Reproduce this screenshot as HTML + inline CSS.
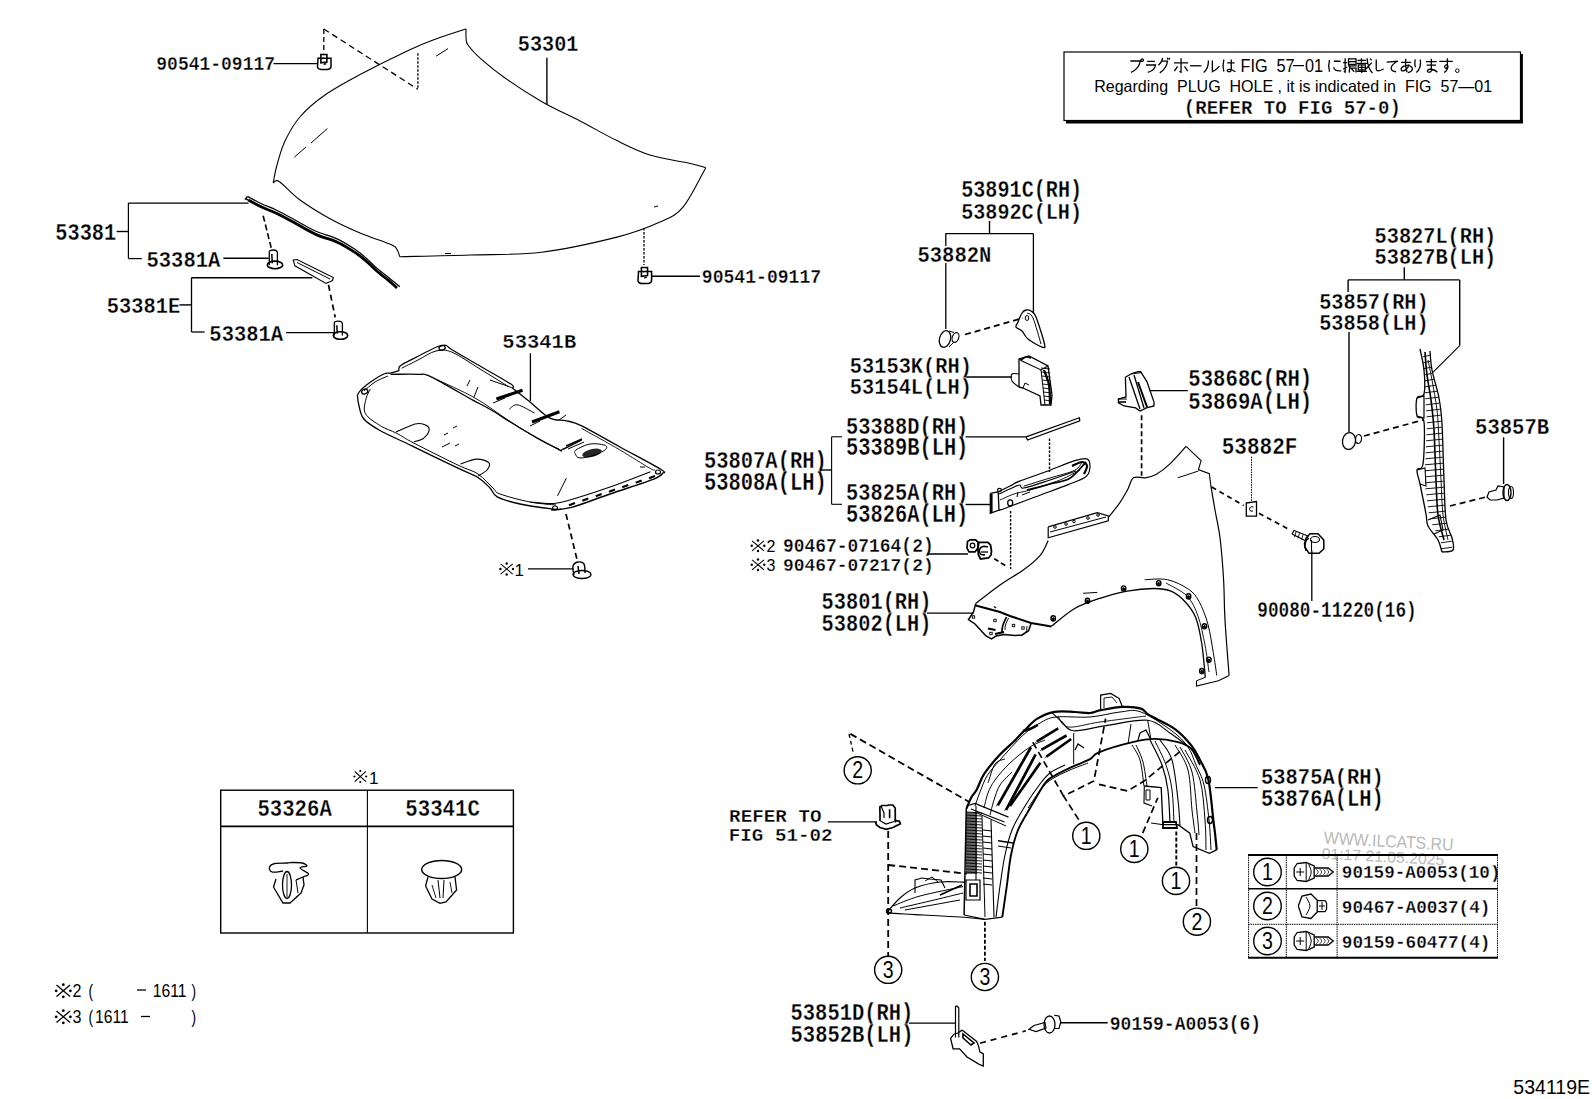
<!DOCTYPE html>
<html><head><meta charset="utf-8"><style>
html,body{margin:0;padding:0;background:#fff;}
body{width:1592px;height:1099px;overflow:hidden;position:relative;font-family:"Liberation Sans",sans-serif;}
svg{position:absolute;left:0;top:0;}
</style></head><body>
<svg width="1592" height="1099" viewBox="0 0 1592 1099">
<g fill="#000" stroke="#fff" stroke-width="0.3">
<text transform="translate(156.30 69.80) scale(0.9261 1)" font-family='"Liberation Mono"' font-weight="bold" font-size="19.43" style="white-space:pre" >90541-09117</text>
<text transform="translate(517.87 50.80) scale(0.8960 1)" font-family='"Liberation Mono"' font-weight="bold" font-size="22.57" style="white-space:pre" >53301</text>
<text transform="translate(55.27 240.30) scale(0.8717 1)" font-family='"Liberation Mono"' font-weight="bold" font-size="23.32" style="white-space:pre" >53381</text>
<text transform="translate(146.46 266.70) scale(0.9098 1)" font-family='"Liberation Mono"' font-weight="bold" font-size="22.57" style="white-space:pre" >53381A</text>
<text transform="translate(106.76 313.00) scale(0.9099 1)" font-family='"Liberation Mono"' font-weight="bold" font-size="22.42" style="white-space:pre" >53381E</text>
<text transform="translate(209.36 340.80) scale(0.9085 1)" font-family='"Liberation Mono"' font-weight="bold" font-size="22.57" style="white-space:pre" >53381A</text>
<text transform="translate(701.79 282.50) scale(0.8644 1)" font-family='"Liberation Mono"' font-weight="bold" font-size="20.93" style="white-space:pre" >90541-09117</text>
<text transform="translate(502.36 347.50) scale(0.9803 1)" font-family='"Liberation Mono"' font-weight="bold" font-size="20.93" style="white-space:pre" >53341B</text>
<text transform="translate(961.18 196.90) scale(0.8703 1)" font-family='"Liberation Mono"' font-weight="bold" font-size="23.17" style="white-space:pre" >53891C(RH)</text>
<text transform="translate(961.18 218.90) scale(0.8933 1)" font-family='"Liberation Mono"' font-weight="bold" font-size="22.57" style="white-space:pre" >53892C(LH)</text>
<text transform="translate(917.46 262.10) scale(0.9289 1)" font-family='"Liberation Mono"' font-weight="bold" font-size="22.12" style="white-space:pre" >53882N</text>
<text transform="translate(849.87 372.50) scale(0.9193 1)" font-family='"Liberation Mono"' font-weight="bold" font-size="22.12" style="white-space:pre" >53153K(RH)</text>
<text transform="translate(849.87 394.10) scale(0.9193 1)" font-family='"Liberation Mono"' font-weight="bold" font-size="22.12" style="white-space:pre" >53154L(LH)</text>
<text transform="translate(846.06 433.50) scale(0.8800 1)" font-family='"Liberation Mono"' font-weight="bold" font-size="23.17" style="white-space:pre" >53388D(RH)</text>
<text transform="translate(846.06 455.40) scale(0.8119 1)" font-family='"Liberation Mono"' font-weight="bold" font-size="25.11" style="white-space:pre" >53389B(LH)</text>
<text transform="translate(703.96 467.50) scale(0.8561 1)" font-family='"Liberation Mono"' font-weight="bold" font-size="23.92" style="white-space:pre" >53807A(RH)</text>
<text transform="translate(703.96 490.10) scale(0.8202 1)" font-family='"Liberation Mono"' font-weight="bold" font-size="24.96" style="white-space:pre" >53808A(LH)</text>
<text transform="translate(846.06 500.40) scale(0.8857 1)" font-family='"Liberation Mono"' font-weight="bold" font-size="23.02" style="white-space:pre" >53825A(RH)</text>
<text transform="translate(846.06 522.30) scale(0.8168 1)" font-family='"Liberation Mono"' font-weight="bold" font-size="24.96" style="white-space:pre" >53826A(LH)</text>
<text transform="translate(783.00 552.00) scale(0.9237 1)" font-family='"Liberation Mono"' font-weight="bold" font-size="19.43" style="white-space:pre" >90467-07164(2)</text>
<text transform="translate(783.00 571.30) scale(0.9309 1)" font-family='"Liberation Mono"' font-weight="bold" font-size="19.28" style="white-space:pre" >90467-07217(2)</text>
<text transform="translate(821.57 608.60) scale(0.8795 1)" font-family='"Liberation Mono"' font-weight="bold" font-size="23.17" style="white-space:pre" >53801(RH)</text>
<text transform="translate(821.57 630.50) scale(0.8795 1)" font-family='"Liberation Mono"' font-weight="bold" font-size="23.17" style="white-space:pre" >53802(LH)</text>
<text transform="translate(1188.35 385.70) scale(0.8688 1)" font-family='"Liberation Mono"' font-weight="bold" font-size="23.77" style="white-space:pre" >53868C(RH)</text>
<text transform="translate(1188.35 409.00) scale(0.8633 1)" font-family='"Liberation Mono"' font-weight="bold" font-size="23.92" style="white-space:pre" >53869A(LH)</text>
<text transform="translate(1221.73 453.50) scale(0.8837 1)" font-family='"Liberation Mono"' font-weight="bold" font-size="23.77" style="white-space:pre" >53882F</text>
<text transform="translate(1374.57 242.50) scale(0.8870 1)" font-family='"Liberation Mono"' font-weight="bold" font-size="22.87" style="white-space:pre" >53827L(RH)</text>
<text transform="translate(1374.57 263.50) scale(0.8870 1)" font-family='"Liberation Mono"' font-weight="bold" font-size="22.87" style="white-space:pre" >53827B(LH)</text>
<text transform="translate(1319.17 309.30) scale(0.8867 1)" font-family='"Liberation Mono"' font-weight="bold" font-size="22.87" style="white-space:pre" >53857(RH)</text>
<text transform="translate(1319.17 330.30) scale(0.8867 1)" font-family='"Liberation Mono"' font-weight="bold" font-size="22.87" style="white-space:pre" >53858(LH)</text>
<text transform="translate(1475.06 433.50) scale(0.8995 1)" font-family='"Liberation Mono"' font-weight="bold" font-size="22.87" style="white-space:pre" >53857B</text>
<text transform="translate(1257.31 616.90) scale(0.7745 1)" font-family='"Liberation Mono"' font-weight="bold" font-size="22.87" style="white-space:pre" >90080-11220(16)</text>
<text transform="translate(257.45 816.30) scale(0.8474 1)" font-family='"Liberation Mono"' font-weight="bold" font-size="24.37" style="white-space:pre" >53326A</text>
<text transform="translate(405.24 816.30) scale(0.8530 1)" font-family='"Liberation Mono"' font-weight="bold" font-size="24.37" style="white-space:pre" >53341C</text>
<text transform="translate(729.11 821.80) scale(1.0066 1)" font-family='"Liberation Mono"' font-weight="bold" font-size="19.13" style="white-space:pre" >REFER TO</text>
<text transform="translate(728.84 841.10) scale(1.0347 1)" font-family='"Liberation Mono"' font-weight="bold" font-size="18.54" style="white-space:pre" >FIG 51-02</text>
<text transform="translate(1261.06 784.30) scale(0.9571 1)" font-family='"Liberation Mono"' font-weight="bold" font-size="21.38" style="white-space:pre" >53875A(RH)</text>
<text transform="translate(1261.06 806.40) scale(0.8887 1)" font-family='"Liberation Mono"' font-weight="bold" font-size="23.02" style="white-space:pre" >53876A(LH)</text>
<text transform="translate(1341.82 878.30) scale(0.9363 1)" font-family='"Liberation Mono"' font-weight="bold" font-size="18.84" style="white-space:pre" >90159-A0053(10)</text>
<text transform="translate(1341.81 912.60) scale(0.9401 1)" font-family='"Liberation Mono"' font-weight="bold" font-size="18.84" style="white-space:pre" >90467-A0037(4)</text>
<text transform="translate(1341.81 947.50) scale(0.9254 1)" font-family='"Liberation Mono"' font-weight="bold" font-size="19.13" style="white-space:pre" >90159-60477(4)</text>
<text transform="translate(790.56 1019.70) scale(0.8455 1)" font-family='"Liberation Mono"' font-weight="bold" font-size="24.22" style="white-space:pre" >53851D(RH)</text>
<text transform="translate(790.56 1041.50) scale(0.8252 1)" font-family='"Liberation Mono"' font-weight="bold" font-size="24.82" style="white-space:pre" >53852B(LH)</text>
<text transform="translate(1109.80 1030.20) scale(0.8674 1)" font-family='"Liberation Mono"' font-weight="bold" font-size="20.78" style="white-space:pre" >90159-A0053(6)</text>
<text transform="translate(1183.80 113.50) scale(0.9439 1)" font-family='"Liberation Mono"' font-weight="bold" font-size="20.18" style="white-space:pre" >(REFER TO FIG 57-0)</text>
<text transform="translate(1513.32 1093.50) scale(0.9420 1)" font-family='"Liberation Sans"' font-weight="normal" font-size="20.77" style="white-space:pre" stroke="none">534119E</text>
<text transform="translate(1094.18 92.00) scale(1.0101 1)" font-family='"Liberation Sans"' font-weight="normal" font-size="15.87" style="white-space:pre" stroke="none">Regarding  PLUG  HOLE , it is indicated in  FIG  57—01</text>
</g>
<g><text transform="translate(1323.5 843.6) rotate(3.1) scale(0.91 1)" font-family="'Liberation Sans'" font-size="17.4" fill="#b9b9b9">WWW.ILCATS.RU</text><text transform="translate(1321.5 858.7) rotate(3.0) scale(1.03 1)" font-family="'Liberation Sans'" font-size="15.3" fill="#b9b9b9">01:17 21.05.2025</text><path d="M0.05 0.18 L0.78 0.18 Q0.72 0.72 0.1 1.0 M0.92 0.12 m-0.09 0 a0.09 0.09 0 1 0 0.18 0 a0.09 0.09 0 1 0 -0.18 0" transform="translate(1129.6 58.5) scale(13.6 13.9)" fill="none" stroke="#000" stroke-width="1.3" vector-effect="non-scaling-stroke"/><path d="M0.15 0.08 L0.8 0.08 M0.05 0.38 L0.85 0.38 Q0.8 0.82 0.2 1.0" transform="translate(1145.4 60.5) scale(11.9 11.9)" fill="none" stroke="#000" stroke-width="1.3" vector-effect="non-scaling-stroke"/><path d="M0.38 0.02 Q0.28 0.32 0.0 0.5 M0.3 0.22 L0.8 0.22 Q0.72 0.72 0.12 1.0 M0.78 0.0 L0.86 0.14 M0.94 0.0 L1.0 0.12" transform="translate(1158.4 57.7) scale(11.4 15.2)" fill="none" stroke="#000" stroke-width="1.3" vector-effect="non-scaling-stroke"/><path d="M0.05 0.32 L0.95 0.32 M0.5 0.0 L0.5 0.95 L0.4 0.9 M0.28 0.55 L0.08 0.88 M0.72 0.55 L0.92 0.88" transform="translate(1173.1 58.2) scale(15.9 14.7)" fill="none" stroke="#000" stroke-width="1.3" vector-effect="non-scaling-stroke"/><path d="M0.0 0.52 L1.0 0.52" transform="translate(1190.1 58.5) scale(11.3 14)" fill="none" stroke="#000" stroke-width="1.3" vector-effect="non-scaling-stroke"/><path d="M0.3 0.05 Q0.3 0.72 0.0 1.0 M0.55 0.05 L0.55 0.95 Q0.8 0.8 1.0 0.5" transform="translate(1203.7 59.9) scale(15.8 12.5)" fill="none" stroke="#000" stroke-width="1.3" vector-effect="non-scaling-stroke"/><path d="M0.15 0.05 Q0.04 0.5 0.15 0.95 M0.4 0.3 L0.95 0.3 M0.7 0.05 L0.7 0.75 Q0.7 0.98 0.5 0.95 Q0.32 0.9 0.45 0.8 Q0.7 0.7 1.0 0.95" transform="translate(1221.8 58.8) scale(13.5 13.6)" fill="none" stroke="#000" stroke-width="1.3" vector-effect="non-scaling-stroke"/><path d="M0.15 0.05 Q0.04 0.5 0.15 0.95 M0.45 0.15 L0.9 0.15 M0.45 0.6 Q0.42 0.92 0.95 0.88" transform="translate(1327.3 59.3) scale(14.7 13.1)" fill="none" stroke="#000" stroke-width="1.3" vector-effect="non-scaling-stroke"/><path d="M0.0 0.3 L0.3 0.3 M0.15 0.0 L0.15 0.95 L0.05 0.9 M0.0 0.75 L0.3 0.6 M0.4 0.05 H0.95 V0.42 H0.4 Z M0.4 0.23 H0.95 M0.35 0.52 H1.0 M0.5 0.52 L0.45 0.98 M0.5 0.68 H0.95 V0.98 M0.62 0.72 L0.82 0.92" transform="translate(1343.1 58.2) scale(13.6 14.7)" fill="none" stroke="#000" stroke-width="1.3" vector-effect="non-scaling-stroke"/><path d="M0.05 0.15 H0.6 M0.3 0.0 V0.3 M0.0 0.35 H0.72 M0.1 0.45 H0.55 V0.8 H0.1 Z M0.1 0.62 H0.55 M0.32 0.45 V1.0 M0.0 0.9 H0.65 M0.66 0.0 Q0.7 0.7 1.0 1.0 M0.6 0.72 L0.95 0.3 M0.84 0.04 L0.95 0.14" transform="translate(1356.7 58.2) scale(15.8 14.7)" fill="none" stroke="#000" stroke-width="1.3" vector-effect="non-scaling-stroke"/><path d="M0.3 0.05 L0.3 0.78 Q0.35 1.0 0.9 0.75" transform="translate(1372.5 58.8) scale(12.5 13.6)" fill="none" stroke="#000" stroke-width="1.3" vector-effect="non-scaling-stroke"/><path d="M0.05 0.22 L0.95 0.15 Q0.4 0.4 0.4 0.7 Q0.45 0.95 0.8 0.95" transform="translate(1386.1 59.3) scale(12.4 13.1)" fill="none" stroke="#000" stroke-width="1.3" vector-effect="non-scaling-stroke"/><path d="M0.1 0.25 H0.85 M0.45 0.0 Q0.4 0.6 0.55 0.95 M0.7 0.4 Q0.5 0.9 0.15 0.85 Q0.0 0.7 0.3 0.52 Q0.8 0.35 0.95 0.7 Q0.9 0.95 0.6 0.98" transform="translate(1399.7 58.8) scale(13.5 14.1)" fill="none" stroke="#000" stroke-width="1.3" vector-effect="non-scaling-stroke"/><path d="M0.2 0.05 Q0.1 0.5 0.25 0.62 M0.7 0.05 Q0.82 0.7 0.3 1.0" transform="translate(1413.2 58.8) scale(10.2 13.6)" fill="none" stroke="#000" stroke-width="1.3" vector-effect="non-scaling-stroke"/><path d="M0.1 0.2 H0.9 M0.15 0.45 H0.85 M0.5 0.0 V0.8 Q0.5 0.97 0.3 0.95 Q0.1 0.9 0.3 0.75 Q0.7 0.7 0.95 0.95" transform="translate(1424.6 58.8) scale(13.5 14.1)" fill="none" stroke="#000" stroke-width="1.3" vector-effect="non-scaling-stroke"/><path d="M0.0 0.22 H1.0 M0.6 0.0 V0.55 Q0.6 0.75 0.45 0.7 Q0.3 0.55 0.55 0.45 Q0.7 0.5 0.6 0.75 Q0.5 0.95 0.35 1.0" transform="translate(1439.3 58.2) scale(13.5 14.2)" fill="none" stroke="#000" stroke-width="1.3" vector-effect="non-scaling-stroke"/><circle cx="1457.3" cy="70.7" r="1.8" fill="none" stroke="#000" stroke-width="1"/><text x="1240.5" y="72.4" font-family="'Liberation Sans'" font-size="19" fill="#000" transform="translate(1240.5 0) scale(0.86 1) translate(-1240.5 0)">FIG</text><text x="1276.5" y="72.4" font-family="'Liberation Sans'" font-size="19" fill="#000" transform="translate(1276.5 0) scale(0.86 1) translate(-1276.5 0)">57</text><line x1="1293" y1="65.6" x2="1304" y2="65.6" stroke="#000" stroke-width="1.2" /><text x="1305" y="72.4" font-family="'Liberation Sans'" font-size="19" fill="#000" transform="translate(1305 0) scale(0.86 1) translate(-1305 0)">01</text><path d="M466 29C461 30.7 445.5 35.5 436 39C426.5 42.5 421.4 44.3 408.8 50.2C396.2 56.1 374.6 66.8 360.6 74.3C346.6 81.8 335.1 88 325 95C314.9 102 306.9 108.9 300.3 116.5C293.7 124.1 289.1 132.5 285.2 140.6C281.3 148.7 279 157.9 277 165C275 172.1 273.8 180 273.2 183" fill="none" stroke="#000" stroke-width="1.1" /><path d="M273.2 183C274.2 182.8 274.7 178.7 279.2 181.5C283.7 184.3 291.4 193.8 300 200C308.6 206.2 320.5 213.5 330.5 219C340.5 224.5 349.9 228.7 360 233C370.1 237.3 384.7 241.9 390.8 244.6C396.9 247.3 395.3 247.1 396.8 249.1C398.3 251.1 399.3 255.4 399.8 256.7" fill="none" stroke="#000" stroke-width="1.1" /><path d="M399.8 256.7C411.5 256.4 446.4 255.8 470 255C493.6 254.2 517 255.2 541.5 252.2C566 249.2 597.1 242.1 616.9 237.1C636.6 232.1 649 227 660 222C671 217 675.6 216 683.2 206.9C690.8 197.8 702 174.2 705.8 167.7" fill="none" stroke="#000" stroke-width="1.1" /><path d="M705.8 167.7C703 166.9 698.5 165.3 689.2 163.2C679.9 161.1 662 158.8 650 155C638 151.2 628.6 146.3 616.9 140.6C605.2 134.9 592.6 127.5 580 121C567.4 114.5 554 108.6 541.5 101.4C529 94.2 515 85 505 78C494.9 71 487.4 64.7 481.2 59.2C475 53.7 470.5 48.5 468 45C465.5 41.5 466.4 40.8 466.1 38.1C465.8 35.4 466 30.5 466 29" fill="none" stroke="#000" stroke-width="1.1" /><line x1="436" y1="56.2" x2="448" y2="48.6" stroke="#000" stroke-width="1" /><line x1="294.3" y1="157.2" x2="306" y2="147" stroke="#000" stroke-width="1" /><line x1="311" y1="143" x2="327.4" y2="128.5" stroke="#000" stroke-width="1" /><line x1="445" y1="253.5" x2="451" y2="253.5" stroke="#000" stroke-width="1" /><line x1="654" y1="207" x2="658" y2="206" stroke="#000" stroke-width="1" /><line x1="323.8" y1="29" x2="323.8" y2="53.2" stroke="#000" stroke-width="1.3" stroke-dasharray="5 3" /><line x1="323.8" y1="29" x2="417.9" y2="89.3" stroke="#000" stroke-width="1.3" stroke-dasharray="6 4" /><line x1="417.9" y1="53.2" x2="417.9" y2="89.3" stroke="#000" stroke-width="1.3" stroke-dasharray="2.5 1.5" /><line x1="546.9" y1="57.7" x2="546.9" y2="104.4" stroke="#000" stroke-width="1.4" /><path d="M318 58.2 L317.5 67.2 Q318.5 69.5 321.6 69.5 L327.6 69.5 Q331 69 331 66.5 L331 58.2 Z" fill="none" stroke="#000" stroke-width="1.5" /><path d="M320.9 62.8 L320.9 54.5 L326.9 54.5 L326.9 62 Z" fill="none" stroke="#000" stroke-width="1.6" /><path d="M324.2 58.2 L322.2 58.7" fill="none" stroke="#000" stroke-width="1.2" /><path d="M323.6 64.2 L326.3 63.8" fill="none" stroke="#000" stroke-width="1.4" /><line x1="273.5" y1="63.7" x2="317" y2="63.7" stroke="#000" stroke-width="1.3" /><path d="M638.5 271.5 L638 281.1 Q639 283.5 642.1 283.5 L648.2 283.5 Q651.6 283 651.6 280.3 L651.6 271.5 Z" fill="none" stroke="#000" stroke-width="1.5" /><path d="M641.4 276.3 L641.4 267.5 L647.5 267.5 L647.5 275.5 Z" fill="none" stroke="#000" stroke-width="1.6" /><path d="M644.8 271.5 L642.8 272" fill="none" stroke="#000" stroke-width="1.2" /><path d="M644.1 277.9 L646.8 277.4" fill="none" stroke="#000" stroke-width="1.4" /><line x1="644" y1="228" x2="644" y2="265" stroke="#000" stroke-width="1.3" stroke-dasharray="2.5 1.5" /><line x1="651.6" y1="276.3" x2="700" y2="276.3" stroke="#000" stroke-width="1.4" /><path d="M247.5 196.4C249.9 197.7 257.2 201.7 262 204C266.8 206.3 270.7 207.3 276.2 210C281.7 212.7 288.5 216.5 295 220C301.5 223.5 308.5 227.9 315.4 231C322.3 234.1 330 235.6 336.5 238.6C343 241.6 349.7 245.9 354.6 249.1C359.5 252.3 362.5 255 366 258C369.5 261 372 264 375.7 267.2C379.4 270.4 384 273.7 388 277C392 280.3 397.8 285.2 399.8 286.8" fill="none" stroke="#000" stroke-width="1.2" /><path d="M248.3 200C250.7 201.3 258 205.3 262.8 207.6C267.6 209.9 271.5 210.9 277 213.6C282.5 216.3 289.3 220.1 295.8 223.6C302.3 227.1 309.3 231.5 316.2 234.6C323.1 237.7 330.8 239.2 337.3 242.2C343.8 245.2 350.5 249.5 355.4 252.7C360.3 255.9 363.3 258.6 366.8 261.6C370.3 264.6 372.8 267.6 376.5 270.8C380.2 274 385.4 277.7 388.8 280.6C392.2 283.5 395.6 286.8 397 288" fill="none" stroke="#000" stroke-width="2.8" /><path d="M247.5 196.4 L245.5 199 L248.3 200" fill="none" stroke="#000" stroke-width="1.4" /><line x1="116.6" y1="231.5" x2="128.4" y2="231.5" stroke="#000" stroke-width="1.4" /><line x1="128.4" y1="203.1" x2="128.4" y2="258.6" stroke="#000" stroke-width="1.2" /><line x1="128.4" y1="203.1" x2="248.5" y2="203.1" stroke="#000" stroke-width="1.2" /><line x1="128.4" y1="258.6" x2="141.8" y2="258.6" stroke="#000" stroke-width="1.2" /><line x1="223.4" y1="258.3" x2="268.6" y2="258.3" stroke="#000" stroke-width="1.4" /><path d="M269.3 265.3 L269.3 252 Q269.3 250 273.4 250 Q277.4 250 277.4 253 L277.4 265.3" fill="none" stroke="#000" stroke-width="1.3" /><line x1="271.8" y1="254" x2="272.3" y2="263.3" stroke="#000" stroke-width="1.5" /><ellipse cx="275" cy="264.9" rx="7.7" ry="3.8" fill="none" stroke="#000" stroke-width="1.6"/><line x1="271.2" y1="247.8" x2="262.4" y2="212.7" stroke="#000" stroke-width="1.6" stroke-dasharray="6 3" /><path d="M293.2 260 L297 259.5 L333.3 277.5 L332.5 280.5 L326 283.5 L294.9 265.8Z" fill="none" stroke="#000" stroke-width="1.1" /><line x1="297" y1="262.5" x2="330" y2="279" stroke="#000" stroke-width="1" /><line x1="179.4" y1="304.9" x2="191.5" y2="304.9" stroke="#000" stroke-width="1.4" /><line x1="191.5" y1="277.7" x2="191.5" y2="332" stroke="#000" stroke-width="1.3" /><line x1="191.5" y1="277.7" x2="312.3" y2="277.7" stroke="#000" stroke-width="1.5" /><line x1="191.5" y1="332" x2="204.6" y2="332" stroke="#000" stroke-width="1.3" /><line x1="286" y1="332.6" x2="334.3" y2="332.6" stroke="#000" stroke-width="1.2" /><path d="M334.3 335.5 L334.3 323.2 Q334.3 321.2 338.4 321.2 Q342.4 321.2 342.4 324.2 L342.4 335.5" fill="none" stroke="#000" stroke-width="1.3" /><line x1="336.8" y1="325.2" x2="337.3" y2="333.5" stroke="#000" stroke-width="1.5" /><ellipse cx="340.5" cy="335.5" rx="7.2" ry="3.8" fill="none" stroke="#000" stroke-width="1.6"/><line x1="328.5" y1="284.9" x2="335.2" y2="317.4" stroke="#000" stroke-width="1.7" stroke-dasharray="6 4" /><path d="M357.4 395.2C358 394.3 358.7 392.1 361.1 389.7C363.5 387.3 368.1 383.7 372 381C375.9 378.3 381.3 375 384.4 373.7C387.5 372.4 388.1 373.6 390.5 373.1C392.9 372.6 397.7 371 399.1 370.6" fill="none" stroke="#000" stroke-width="1.2" /><path d="M399.1 370.6C399.3 369.8 397.5 367.9 400.4 365.7C403.3 363.4 410.2 360.3 416.3 357.1C422.4 353.9 432.3 348.6 437.2 346.7C442.1 344.8 443.3 344.9 445.8 345.4C448.3 345.9 446.3 346.3 452 349.7C457.7 353.1 470.2 360.3 480 366C489.8 371.7 505.5 380.5 510.9 384.1C516.2 387.7 511.9 387.2 512.1 387.8" fill="none" stroke="#000" stroke-width="1.2" /><path d="M401.6 368.2C404.3 366.8 412.3 362.9 418 360C423.7 357.1 430.3 352.3 436 351C441.7 349.7 444.7 349.2 452 352.2C459.3 355.2 470.6 363.3 480 369C489.4 374.7 503.8 383.7 508.5 386.6" fill="none" stroke="#000" stroke-width="1" /><path d="M364 391C365.8 389.5 371 384.5 375 382C379 379.5 385.8 377 388 376" fill="none" stroke="#000" stroke-width="1" /><path d="M357.4 395.2C357.6 396.6 357.6 399.9 358.6 403.8C359.6 407.7 360 414.1 363.5 418.5C367 422.9 371.5 425.7 379.5 430.2C387.5 434.7 398.5 439.4 411.4 445.6C424.3 451.9 445.9 462.4 456.9 467.7C467.9 473 472.1 473.8 477.6 477.2C483.1 480.6 486.7 484.7 490 488C493.3 491.3 492.2 494.2 497.2 496.9C502.2 499.6 510.6 501.9 520 504C529.4 506.1 546.9 508.3 553.7 509.2C560.6 510.1 559.9 509.2 561.1 509.2" fill="none" stroke="#000" stroke-width="1.3" /><path d="M370.3 389C369.6 390.6 366.8 394.8 366 398.9C365.2 403 362.9 409.1 365.4 413.6C367.8 418.1 375.5 422.6 380.7 425.9C385.9 429.2 391.2 430.4 396.7 433.3C402.2 436.2 403.7 437.8 413.9 443.1C424.1 448.4 447.4 460.1 458.1 465.2C468.8 470.3 472.2 470.2 478 474C483.8 477.8 489.3 484.7 493 488C496.7 491.3 493.8 491.7 500 494C506.2 496.3 520.7 500.2 530 502C539.3 503.8 551.7 504.5 556 505" fill="none" stroke="#000" stroke-width="1" /><path d="M512 387.8C515 390.2 523.7 396.9 530 402C536.3 407.1 543.8 415.1 549.9 418.2C556 421.3 561.1 419.5 566.4 420.8C571.7 422.1 572.8 421.5 581.7 425.9C590.6 430.3 606.8 439.8 620 447C633.2 454.2 653.5 464.9 660.7 469.2C667.9 473.5 662.8 472.4 663.2 473" fill="none" stroke="#000" stroke-width="1.3" /><path d="M581.7 428.5C588.1 432.1 608.8 443.4 620 450C631.2 456.6 643.4 464.6 649.2 467.9C655 471.2 654 469.6 655 470" fill="none" stroke="#000" stroke-width="0.9" /><path d="M663.2 473C661.5 474.1 662 475.9 653.1 479.4C644.2 482.9 623.6 489.3 610 494C596.4 498.7 581.3 504.8 571.5 507.4C561.7 510 554.5 509.5 551.1 509.9" fill="none" stroke="#000" stroke-width="1.5" /><path d="M650.5 471.7C643.8 474.2 624 482.1 610 487C596 491.9 576.2 498.2 566.4 501C556.6 503.8 557.2 503.4 551.1 503.6C545 503.8 533.5 502.3 530 502" fill="none" stroke="#000" stroke-width="1.1" /><line x1="655" y1="476" x2="649" y2="478.2" stroke="#000" stroke-width="2.2" /><line x1="641.7" y1="480.5" x2="635.7" y2="482.7" stroke="#000" stroke-width="2.2" /><line x1="628.3" y1="485" x2="622.3" y2="487.2" stroke="#000" stroke-width="2.2" /><line x1="615" y1="489.5" x2="609" y2="491.7" stroke="#000" stroke-width="2.2" /><line x1="601.7" y1="494" x2="595.7" y2="496.2" stroke="#000" stroke-width="2.2" /><line x1="588.3" y1="498.5" x2="582.3" y2="500.7" stroke="#000" stroke-width="2.2" /><line x1="575" y1="503" x2="569" y2="505.2" stroke="#000" stroke-width="2.2" /><ellipse cx="364.7" cy="391.5" rx="3.2" ry="2.4" transform="rotate(-25 364.7 391.5)" fill="none" stroke="#000" stroke-width="1.3"/><ellipse cx="442.1" cy="347.9" rx="3.2" ry="2.2" transform="rotate(-15 442.1 347.9)" fill="none" stroke="#000" stroke-width="1.3"/><ellipse cx="658" cy="472" rx="2.5" ry="2" fill="none" stroke="#000" stroke-width="1.2"/><ellipse cx="555" cy="508" rx="2.5" ry="2" fill="none" stroke="#000" stroke-width="1.2"/><path d="M390.5 374.3C395.2 374.3 412 373.9 418.8 374.3C425.6 374.7 422.1 372.5 431.1 376.8C440.1 381.1 463 394.7 472.8 400.1C482.6 405.5 482.1 404.7 490 409.3C497.9 413.9 508.8 421.4 520 428C531.2 434.6 550.4 445.2 557.5 448.8C564.6 452.4 558.6 450.9 562.6 449.4C566.6 447.9 578.5 441.5 581.7 439.9" fill="none" stroke="#000" stroke-width="1.3" /><path d="M436 379.2C442.5 382.3 462.8 391.1 475 398C487.2 404.9 498.3 413.8 509.1 420.8C519.9 427.8 531.7 435.3 540 440C548.3 444.7 555.8 447.5 559 449" fill="none" stroke="#000" stroke-width="0.9" /><path d="M509.1 409.3C510.5 408.6 513.1 404.2 517.4 404.8C521.6 405.4 531.7 411.7 534.6 413.1" fill="none" stroke="#000" stroke-width="1" /><line x1="490" y1="380" x2="511.7" y2="387.6" stroke="#000" stroke-width="1" /><path d="M396 432C399.2 430.7 410.3 425.2 415.1 424C419.9 422.8 422.5 423.8 424.9 424.7C427.2 425.6 429.4 427.4 429.2 429.6C429 431.9 426.2 436.1 423.7 438.2C421.1 440.2 415.5 441.3 413.9 441.9" fill="none" stroke="#000" stroke-width="1.1" /><path d="M460.5 464C463.2 463.2 471.8 459.3 476.5 459.1C481.2 458.9 487.1 460.9 488.8 462.7C490.6 464.5 488.8 467.8 487 470C485.2 472.2 479.5 475 478 476" fill="none" stroke="#000" stroke-width="1.1" /><line x1="496.4" y1="399.1" x2="522.5" y2="390.2" stroke="#000" stroke-width="3.2" /><line x1="532" y1="422" x2="559.4" y2="411.8" stroke="#000" stroke-width="3.2" /><line x1="493" y1="403" x2="505" y2="398" stroke="#000" stroke-width="1" /><line x1="530" y1="426" x2="540" y2="421" stroke="#000" stroke-width="1" /><line x1="467" y1="386" x2="470" y2="380" stroke="#000" stroke-width="1" /><line x1="474" y1="397" x2="478" y2="387" stroke="#000" stroke-width="1" /><line x1="559" y1="420" x2="566" y2="415" stroke="#000" stroke-width="1" /><path d="M576 450C578.4 448.3 585.3 444.8 590 444C594.7 443.2 601.3 444.2 604 445C606.7 445.8 607.5 447.3 606 449C604.5 450.7 599.3 453.5 595 455C590.7 456.5 583.3 458.2 580 458C576.7 457.8 576.1 455.3 575.4 454C574.7 452.7 573.6 451.7 576 450Z" fill="none" stroke="#000" stroke-width="1" /><ellipse cx="592" cy="453" rx="10" ry="3.8" transform="rotate(-14 592 453)" fill="#000" opacity="0.85"/><line x1="566" y1="446" x2="582" y2="439" stroke="#000" stroke-width="1.4" /><line x1="568" y1="449" x2="584" y2="442" stroke="#000" stroke-width="1" /><line x1="453" y1="428" x2="457" y2="426" stroke="#000" stroke-width="1" /><line x1="444" y1="435" x2="448" y2="433" stroke="#000" stroke-width="1" /><line x1="442" y1="447" x2="450" y2="443" stroke="#000" stroke-width="1" /><line x1="455" y1="446" x2="459" y2="444" stroke="#000" stroke-width="1" /><line x1="557.5" y1="495.9" x2="566.4" y2="478.1" stroke="#000" stroke-width="1" /><line x1="640" y1="467" x2="645" y2="467" stroke="#000" stroke-width="1" /><line x1="530.4" y1="353.2" x2="530.4" y2="401" stroke="#000" stroke-width="1.3" /><line x1="566" y1="514" x2="577" y2="559.5" stroke="#000" stroke-width="1.7" stroke-dasharray="6 4" /><line x1="528" y1="568.9" x2="573.4" y2="568.9" stroke="#000" stroke-width="1.4" /><path d="M574 575C573.8 573.5 572.3 568.2 573 566C573.7 563.8 576.2 562.3 578 562C579.8 561.7 582.8 562.2 584 564C585.2 565.8 584.8 571.5 585 573" fill="none" stroke="#000" stroke-width="1.4" /><ellipse cx="582" cy="574.5" rx="9" ry="4" fill="none" stroke="#000" stroke-width="1.4"/><line x1="578" y1="566" x2="579" y2="574" stroke="#000" stroke-width="1.5" /><rect x="1064" y="52" width="456.5" height="68.5" fill="none" stroke="#000" stroke-width="1.2"/><line x1="1521.5" y1="54" x2="1521.5" y2="123" stroke="#000" stroke-width="2.8" /><line x1="1066" y1="122" x2="1523" y2="122" stroke="#000" stroke-width="2.8" /><line x1="989.5" y1="221" x2="989.5" y2="233.7" stroke="#000" stroke-width="1.4" /><line x1="945.3" y1="233.7" x2="1033.4" y2="233.7" stroke="#000" stroke-width="1.3" /><line x1="945.8" y1="233.7" x2="945.8" y2="246" stroke="#000" stroke-width="1.3" /><line x1="945.8" y1="263" x2="945.8" y2="329" stroke="#000" stroke-width="1.3" /><line x1="1033.4" y1="233.7" x2="1033.4" y2="313" stroke="#000" stroke-width="1.3" /><ellipse cx="945" cy="339" rx="5.5" ry="8.5" fill="none" stroke="#000" stroke-width="1.3" transform="rotate(15 945 339)"/><ellipse cx="955.5" cy="337.5" rx="3.2" ry="5" fill="none" stroke="#000" stroke-width="1.2" transform="rotate(20 955.5 337.5)"/><line x1="949" y1="331" x2="954" y2="332.5" stroke="#000" stroke-width="1" /><line x1="949" y1="347" x2="954" y2="342" stroke="#000" stroke-width="1" /><line x1="965" y1="334.5" x2="1023" y2="318" stroke="#000" stroke-width="1.8" stroke-dasharray="6 4" /><path d="M1022 313C1023.3 311 1024.5 310.3 1026 310C1027.5 309.7 1029.3 309.8 1031 311C1032.7 312.2 1033.8 311.5 1036 317C1038.2 322.5 1043.5 339 1044.5 344C1045.5 349 1044.8 347.8 1042 347C1039.2 346.2 1031.3 341.7 1028 339C1024.7 336.3 1024 333 1022 331C1020 329 1016.7 328.5 1016 327C1015.3 325.5 1017 324.3 1018 322C1019 319.7 1020.7 315 1022 313Z" fill="none" stroke="#000" stroke-width="1.3" /><path d="M1027 313C1028 313.8 1030.7 312.8 1033 318C1035.3 323.2 1039.7 339.7 1041 344" fill="none" stroke="#000" stroke-width="1" /><ellipse cx="1027" cy="318" rx="1.8" ry="2.5" fill="none" stroke="#000" stroke-width="1"/><line x1="966.2" y1="377" x2="1012" y2="377" stroke="#000" stroke-width="1.4" /><path d="M1019 387 L1019 359 L1029 356 L1048 366 L1052 395 L1051 405 L1041 405 L1040 396 L1023 388 L1019 387" fill="none" stroke="#000" stroke-width="1.3" /><path d="M1019 359 L1022 361 L1041 370 L1048 366" fill="none" stroke="#000" stroke-width="1.1" /><path d="M1041 370 L1045 405" fill="none" stroke="#000" stroke-width="1" /><path d="M1044 370C1044.8 372.5 1048 379.3 1049 385C1050 390.7 1049.8 400.8 1050 404" fill="none" stroke="#000" stroke-width="2.2" /><line x1="1041" y1="368" x2="1050" y2="369" stroke="#000" stroke-width="0.9" /><line x1="1041.4" y1="372" x2="1050.2" y2="373" stroke="#000" stroke-width="0.9" /><line x1="1041.8" y1="376" x2="1050.4" y2="377" stroke="#000" stroke-width="0.9" /><line x1="1042.2" y1="380" x2="1050.6" y2="381" stroke="#000" stroke-width="0.9" /><line x1="1042.6" y1="384" x2="1050.8" y2="385" stroke="#000" stroke-width="0.9" /><line x1="1043" y1="388" x2="1051" y2="389" stroke="#000" stroke-width="0.9" /><line x1="1043.4" y1="392" x2="1051.2" y2="393" stroke="#000" stroke-width="0.9" /><line x1="1043.8" y1="396" x2="1051.4" y2="397" stroke="#000" stroke-width="0.9" /><line x1="1044.2" y1="400" x2="1051.6" y2="401" stroke="#000" stroke-width="0.9" /><path d="M1021 360C1021.8 359.5 1024.3 357.3 1026 357C1027.7 356.7 1030.2 357.8 1031 358" fill="none" stroke="#000" stroke-width="1.6" /><path d="M1019 374C1017.8 374 1013.2 372.8 1012 374C1010.8 375.2 1010.8 378.8 1012 381C1013.2 383.2 1017.8 386 1019 387" fill="none" stroke="#000" stroke-width="1.1" /><path d="M1023 388 L1025 383 L1029 385" fill="none" stroke="#000" stroke-width="1" /><line x1="965.6" y1="436.9" x2="1026" y2="436.9" stroke="#000" stroke-width="1.2" /><path d="M1026.1 436.9 L1079.4 417.7 L1079.8 420.9 L1027.5 440 L1026.1 436.9" fill="none" stroke="#000" stroke-width="1.2" /><line x1="1049.5" y1="438.4" x2="1049.5" y2="471.9" stroke="#000" stroke-width="1.4" stroke-dasharray="2.5 1.5" /><line x1="820" y1="470" x2="831.6" y2="470" stroke="#000" stroke-width="1.4" /><line x1="831.6" y1="436.8" x2="831.6" y2="504.3" stroke="#000" stroke-width="1.1" /><line x1="831.6" y1="436.8" x2="842" y2="436.8" stroke="#000" stroke-width="1.1" /><line x1="831.6" y1="504.3" x2="842" y2="504.3" stroke="#000" stroke-width="1.1" /><line x1="965.6" y1="504.5" x2="990.3" y2="504.5" stroke="#000" stroke-width="1.4" /><path d="M990.3 493.4 L998.2 491.8 L999 510.1 L990.3 513.3 L990.3 493.4" fill="none" stroke="#000" stroke-width="1.3" /><path d="M998.2 491.8C1000.2 490.8 1006.5 487.7 1010 486C1013.5 484.3 1013.1 483.7 1018.9 481.4C1024.7 479.1 1035.7 475.4 1045 472C1054.3 468.6 1067.6 462.8 1074.7 460.7C1081.8 458.6 1084.9 457.8 1087.4 459.1C1089.9 460.4 1090.1 465.8 1089.8 468.7C1089.5 471.6 1089.4 474 1085.8 476.7C1082.2 479.4 1076.8 481.2 1068.3 484.6C1059.8 488 1045.6 493 1035 497C1024.4 501 1010.6 506.3 1004.6 508.5C998.6 510.7 999.9 509.8 999 510.1" fill="none" stroke="#000" stroke-width="1.2" /><path d="M1023.7 486.2C1028.1 484.8 1041.5 480.6 1050 478C1058.5 475.4 1069.4 473 1074.7 470.3C1080 467.6 1080.8 463.4 1082 462" fill="none" stroke="#000" stroke-width="1" /><path d="M1026.9 490.2C1030.8 489.2 1042.8 486 1050 484C1057.2 482 1063.9 482 1069.9 478.3C1075.9 474.6 1083.3 464.7 1086 462" fill="none" stroke="#000" stroke-width="1.8" /><ellipse cx="1010.2" cy="502.9" rx="2.5" ry="3" fill="none" stroke="#000" stroke-width="1.3"/><path d="M999 494C1001.2 493 1008.5 489.5 1012 488C1015.5 486.5 1018 485 1020 485C1022 485 1019 488.8 1024 488C1029 487.2 1041.3 482.8 1050 480C1058.7 477.2 1071.7 472.5 1076 471" fill="none" stroke="#000" stroke-width="1.1" /><path d="M1000 500C1002.3 499 1009 495.7 1014 494C1019 492.3 1022.3 492.3 1030 490C1037.7 487.7 1051.7 483.3 1060 480C1068.3 476.7 1076.7 471.7 1080 470" fill="none" stroke="#000" stroke-width="0.9" /><path d="M1072 466C1073.7 465.3 1079.5 462 1082 462C1084.5 462 1086.7 464 1087 466C1087.3 468 1084.5 472.7 1084 474" fill="none" stroke="#000" stroke-width="2.2" /><line x1="991.5" y1="494" x2="991.5" y2="513" stroke="#000" stroke-width="2.2" /><ellipse cx="999.5" cy="490" rx="2" ry="1.6" fill="none" stroke="#000" stroke-width="1.1"/><line x1="1017" y1="497" x2="1018" y2="492" stroke="#000" stroke-width="1.1" /><line x1="1022" y1="495" x2="1030" y2="492" stroke="#000" stroke-width="1" /><line x1="1010.6" y1="510.9" x2="1010.6" y2="569" stroke="#000" stroke-width="1.4" stroke-dasharray="2.5 1.5" /><line x1="927" y1="554" x2="968" y2="554" stroke="#000" stroke-width="1.4" /><path d="M967.5 541.5 L970 539.8 L975.5 539.8 L978 542 L978 548 L975 551.8 L969 551.8 L967 548Z" fill="none" stroke="#000" stroke-width="1.7" /><path d="M979 542.3 L988 542.3 L990.5 545 L991.5 551 L991 555 L988.5 558 L980.5 559 L978.5 555 L977.8 548Z" fill="none" stroke="#000" stroke-width="1.8" /><path d="M988 547C987.2 546.9 984.4 546.1 983 546.5C981.6 546.9 979.9 548.2 979.5 549.5C979.1 550.8 979.6 553.1 980.5 554C981.4 554.9 984.2 554.8 985 555" fill="none" stroke="#000" stroke-width="1.6" /><line x1="981" y1="552" x2="988" y2="552" stroke="#000" stroke-width="1.3" /><ellipse cx="972.5" cy="545.5" rx="2.3" ry="2.3" fill="none" stroke="#000" stroke-width="1.2"/><line x1="994.2" y1="558.7" x2="1006" y2="566" stroke="#000" stroke-width="1.7" stroke-dasharray="5 3" /><line x1="927" y1="613.2" x2="973.3" y2="613.2" stroke="#000" stroke-width="1.2" /><path d="M1048.2 540.6C1046.8 543.1 1044.2 550.7 1040 555.6C1035.8 560.5 1030 565.1 1023.3 570C1016.6 574.9 1007.9 579.4 1000 585C992.1 590.6 979.8 600.3 975.8 603.4" fill="none" stroke="#000" stroke-width="1.2" /><path d="M1048.2 526.9 L1097.3 512.6 L1108.3 516 L1108.3 520.8 L1048.2 537.8 L1048.2 526.9" fill="none" stroke="#000" stroke-width="1.2" /><line x1="1050" y1="532" x2="1106" y2="517" stroke="#000" stroke-width="1" /><ellipse cx="1055" cy="527" rx="1.3" ry="1.3" fill="none" stroke="#000" stroke-width="1"/><ellipse cx="1066" cy="524" rx="1.3" ry="1.3" fill="none" stroke="#000" stroke-width="1"/><ellipse cx="1074" cy="521.5" rx="1.3" ry="1.3" fill="none" stroke="#000" stroke-width="1"/><ellipse cx="1088" cy="518" rx="1.3" ry="1.3" fill="none" stroke="#000" stroke-width="1"/><ellipse cx="1098" cy="515" rx="1.3" ry="1.3" fill="none" stroke="#000" stroke-width="1"/><path d="M1108.3 517.4C1110.1 515.1 1116 508.2 1119.2 503.7C1122.4 499.1 1125 494.4 1127.4 490.1C1129.8 485.8 1130.5 479.9 1133.5 477.8C1136.5 475.8 1141.3 478.4 1145.1 477.8C1148.8 477.2 1151.9 476.7 1156 474.4C1160.1 472.1 1164.7 468.8 1169.7 464.1C1174.7 459.4 1183.4 449.3 1186.1 446.4" fill="none" stroke="#000" stroke-width="1.2" /><path d="M1186.1 446.4 L1201.1 460.7 L1198.4 469.6 L1209.3 473.7 L1210.7 484.6" fill="none" stroke="#000" stroke-width="1.1" /><path d="M1210.7 484.6C1211.4 488.8 1213.4 500.9 1215 510C1216.6 519.1 1218.8 527.5 1220.2 539.2C1221.6 550.9 1222.8 566.5 1223.6 580C1224.4 593.5 1224.1 604.1 1225 620C1225.9 635.9 1228.4 666.2 1229.1 675.5" fill="none" stroke="#000" stroke-width="1.2" /><line x1="1177.9" y1="477.8" x2="1198.4" y2="471" stroke="#000" stroke-width="1" /><path d="M975.8 603.4 L973.5 612 L968.5 619.5 L975 624 L986 636 L991.5 638.8 L996 636 L1004 634.5 L1015 635.5 L1022 635 L1028.6 630.7 L1031.2 623" fill="none" stroke="#000" stroke-width="1.5" /><path d="M975.8 605.5 L1000 612 L1010 616 L1031 623 L1051.5 626.5" fill="none" stroke="#000" stroke-width="2" /><path d="M1006.5 617C1005.9 618.3 1003.8 622.7 1003 625C1002.2 627.3 1002 629.7 1002 631C1002 632.3 1002.8 632.7 1003 633" fill="none" stroke="#000" stroke-width="1.7" /><path d="M1008.5 618C1008 619.2 1006.1 623 1005.5 625C1004.9 627 1005.1 629.2 1005 630" fill="none" stroke="#000" stroke-width="1" /><line x1="988" y1="628.5" x2="995.5" y2="630" stroke="#000" stroke-width="2" /><line x1="995" y1="634" x2="1004" y2="632" stroke="#000" stroke-width="2.2" /><rect x="972.3" y="615.8" width="2.4" height="2.4" fill="none" stroke="#000" stroke-width="0.9"/><rect x="993.8" y="619.3" width="2.4" height="2.4" fill="none" stroke="#000" stroke-width="0.9"/><rect x="1012.3" y="624.3" width="2.4" height="2.4" fill="none" stroke="#000" stroke-width="0.9"/><rect x="1021.8" y="626.8" width="2.4" height="2.4" fill="none" stroke="#000" stroke-width="0.9"/><rect x="989.8" y="632.3" width="2.4" height="2.4" fill="none" stroke="#000" stroke-width="0.9"/><path d="M1027 626C1026.8 627 1027 630.3 1026 632C1025 633.7 1021.8 635.3 1021 636" fill="none" stroke="#000" stroke-width="1" /><line x1="994" y1="606.5" x2="996" y2="608" stroke="#000" stroke-width="1.4" /><path d="M1051.5 626.3C1055.3 623.4 1066.1 613.4 1074.3 608.7C1082.5 604 1091.9 601 1100.7 598.1C1109.5 595.2 1118.3 592.7 1127.1 591.1C1135.9 589.5 1146.2 588.5 1153.5 588.5C1160.8 588.5 1165.7 588.9 1171 591.1C1176.3 593.3 1181 597.3 1185.1 601.7C1189.2 606.1 1192.9 610.5 1195.7 617.5C1198.5 624.5 1200.2 633.9 1201.8 643.9C1203.4 653.9 1204.7 671.7 1205.3 677.3" fill="none" stroke="#000" stroke-width="1.3" /><path d="M1144.7 579.7C1148.5 579.7 1160.2 578.1 1167.5 579.7C1174.8 581.3 1183.3 585.6 1188.6 589.3C1193.9 593 1196 595.8 1199.2 601.7C1202.4 607.6 1205.7 616 1208 624.5C1210.3 633 1211.8 644.2 1213.3 652.7C1214.8 661.2 1216.2 671.7 1216.8 675.5" fill="none" stroke="#000" stroke-width="1" /><path d="M1166 583C1169.5 585.2 1181.7 590.5 1187 596C1192.3 601.5 1195 607.8 1198 616C1201 624.2 1203.2 635.7 1205 645C1206.8 654.3 1208.3 667.5 1209 672" fill="none" stroke="#000" stroke-width="0.9" /><path d="M1196.5 680.8 L1196.5 686.1 L1218.5 680.8 L1229.1 675.5" fill="none" stroke="#000" stroke-width="1.1" /><line x1="1196.5" y1="680.8" x2="1205.3" y2="677.3" stroke="#000" stroke-width="1" /><ellipse cx="1053.2" cy="618.4" rx="2.2" ry="2.6" fill="none" stroke="#000" stroke-width="1.4"/><ellipse cx="1053.2" cy="618.9" rx="1" ry="1.2" fill="#000" stroke="#000" stroke-width="1"/><ellipse cx="1087.5" cy="600.8" rx="2.2" ry="2.6" fill="none" stroke="#000" stroke-width="1.4"/><ellipse cx="1087.5" cy="601.3" rx="1" ry="1.2" fill="#000" stroke="#000" stroke-width="1"/><ellipse cx="1123.6" cy="588.5" rx="2.2" ry="2.6" fill="none" stroke="#000" stroke-width="1.4"/><ellipse cx="1123.6" cy="589" rx="1" ry="1.2" fill="#000" stroke="#000" stroke-width="1"/><ellipse cx="1158.7" cy="583.2" rx="2.2" ry="2.6" fill="none" stroke="#000" stroke-width="1.4"/><ellipse cx="1158.7" cy="583.7" rx="1" ry="1.2" fill="#000" stroke="#000" stroke-width="1"/><ellipse cx="1188.6" cy="596.4" rx="2.2" ry="2.6" fill="none" stroke="#000" stroke-width="1.4"/><ellipse cx="1188.6" cy="596.9" rx="1" ry="1.2" fill="#000" stroke="#000" stroke-width="1"/><ellipse cx="1204.5" cy="626.3" rx="2.2" ry="2.6" fill="none" stroke="#000" stroke-width="1.4"/><ellipse cx="1204.5" cy="626.8" rx="1" ry="1.2" fill="#000" stroke="#000" stroke-width="1"/><ellipse cx="1208.9" cy="659.7" rx="2.2" ry="2.6" fill="none" stroke="#000" stroke-width="1.4"/><ellipse cx="1208.9" cy="660.2" rx="1" ry="1.2" fill="#000" stroke="#000" stroke-width="1"/><ellipse cx="1201.8" cy="671.1" rx="2.2" ry="2.6" fill="none" stroke="#000" stroke-width="1.4"/><ellipse cx="1201.8" cy="671.6" rx="1" ry="1.2" fill="#000" stroke="#000" stroke-width="1"/><line x1="1083.1" y1="593.3" x2="1097.2" y2="592.4" stroke="#000" stroke-width="1" /><line x1="1149.6" y1="390.7" x2="1187.8" y2="390.7" stroke="#000" stroke-width="1.2" /><path d="M1125.4 377.3 L1131.8 373.5 L1138.1 371.6 L1140.7 371.6 L1147 381.8 L1149.6 389.4 L1154 402.1 L1154 406 L1146.4 407.9 L1140 411 L1135.6 407.9 L1124.1 406 L1118.4 402.8 L1118.4 399 L1126 397 L1125.4 377.3" fill="none" stroke="#000" stroke-width="1.3" /><line x1="1129" y1="377" x2="1140" y2="409" stroke="#000" stroke-width="1.3" /><line x1="1134" y1="375" x2="1144" y2="408" stroke="#000" stroke-width="1.3" /><line x1="1138" y1="382" x2="1147" y2="407" stroke="#000" stroke-width="2" /><line x1="1131" y1="374" x2="1142" y2="372.5" stroke="#000" stroke-width="1.2" /><line x1="1118.4" y1="402" x2="1126" y2="402" stroke="#000" stroke-width="1.6" /><line x1="1118.4" y1="399" x2="1127" y2="399" stroke="#000" stroke-width="1" /><line x1="1141.6" y1="415.3" x2="1141.6" y2="475.8" stroke="#000" stroke-width="1.7" stroke-dasharray="5 3" /><line x1="1251.5" y1="456.7" x2="1251.5" y2="501.6" stroke="#000" stroke-width="1" stroke-dasharray="1.5 1" /><path d="M1246.3 503 L1256.5 501.6 L1256.5 516.2 L1246.3 516.2Z" fill="none" stroke="#000" stroke-width="1.3" /><path d="M1253.5 507 Q1249.5 506 1249.5 509.5 Q1250 512 1253 511" fill="none" stroke="#000" stroke-width="1" /><line x1="1211.7" y1="487" x2="1243.7" y2="505.6" stroke="#000" stroke-width="1.7" stroke-dasharray="5 4" /><line x1="1259" y1="513.3" x2="1288.9" y2="529.3" stroke="#000" stroke-width="1.7" stroke-dasharray="5 4" /><path d="M1292 534 L1294 530.5 L1308 536 L1306 541 L1292 534" fill="none" stroke="#000" stroke-width="1.2" /><path d="M1306 538 L1310 533.7 L1318 533.7 L1323.8 540 L1323.8 549 L1319 553.3 L1309 553.3 L1304.9 547Z" fill="none" stroke="#000" stroke-width="1.5" /><path d="M1309 538C1308.2 538.8 1305 540.8 1304.5 543C1304 545.2 1305.8 549.7 1306 551" fill="none" stroke="#000" stroke-width="1.3" /><ellipse cx="1315" cy="539.5" rx="4.5" ry="3" fill="none" stroke="#000" stroke-width="1.1"/><line x1="1311.5" y1="540" x2="1311.5" y2="551" stroke="#000" stroke-width="1.1" /><line x1="1296" y1="532" x2="1294.5" y2="537" stroke="#000" stroke-width="0.9" /><line x1="1299.5" y1="533.3" x2="1298" y2="538.3" stroke="#000" stroke-width="0.9" /><line x1="1303" y1="534.6" x2="1301.5" y2="539.6" stroke="#000" stroke-width="0.9" /><line x1="1311.8" y1="550.4" x2="1311.8" y2="601" stroke="#000" stroke-width="1.3" /><line x1="1404.3" y1="267.3" x2="1404.3" y2="279.9" stroke="#000" stroke-width="1.4" /><line x1="1348.1" y1="279.9" x2="1459.7" y2="279.9" stroke="#000" stroke-width="1.4" /><line x1="1348.1" y1="279.9" x2="1348.1" y2="292" stroke="#000" stroke-width="1.4" /><line x1="1349" y1="332" x2="1349" y2="432" stroke="#000" stroke-width="1.4" /><line x1="1459.7" y1="279.9" x2="1459.7" y2="345.6" stroke="#000" stroke-width="1.4" /><line x1="1459.7" y1="345.6" x2="1432.9" y2="372.4" stroke="#000" stroke-width="1.1" /><path d="M1420 349C1420.7 352.5 1423.3 362.5 1424 370C1424.7 377.5 1425.2 389.3 1424 394C1422.8 398.7 1418.2 394.3 1417 398C1415.8 401.7 1415.8 412 1417 416C1418.2 420 1423 414 1424 422C1425 430 1424.2 456 1423 464C1421.8 472 1417.5 466.7 1417 470C1416.5 473.3 1418.5 476.7 1420 484C1421.5 491.3 1424.7 507 1426 514C1427.3 521 1426 521.7 1428 526C1430 530.3 1435.7 535.7 1438 540C1440.3 544.3 1441.3 550 1442 552" fill="none" stroke="#000" stroke-width="1.3" /><path d="M1430 351C1430.3 354.2 1430.5 362.2 1432 370C1433.5 377.8 1437.3 389 1439 398C1440.7 407 1441.2 410.3 1442 424C1442.8 437.7 1443.3 464 1444 480C1444.7 496 1444.7 510.3 1446 520C1447.3 529.7 1450.8 533 1452 538C1453.2 543 1454.7 547.7 1453 550C1451.3 552.3 1443.8 551.7 1442 552" fill="none" stroke="#000" stroke-width="1.3" /><path d="M1425 352C1425.3 355.8 1426 367 1427 375C1428 383 1429.8 390.8 1431 400C1432.2 409.2 1433.2 416.7 1434 430C1434.8 443.3 1435.3 465.8 1436 480C1436.7 494.2 1436.7 505 1438 515C1439.3 525 1443 535.8 1444 540" fill="none" stroke="#000" stroke-width="1.6" /><path d="M1428 360C1428.7 363.3 1430.5 371.7 1432 380C1433.5 388.3 1435.8 400 1437 410C1438.2 420 1438.3 428.3 1439 440C1439.7 451.7 1440.3 467.5 1441 480C1441.7 492.5 1441.8 505 1443 515C1444.2 525 1447.2 535.8 1448 540" fill="none" stroke="#000" stroke-width="0.9" /><line x1="1423" y1="356.8" x2="1430" y2="355.2" stroke="#000" stroke-width="0.9" /><line x1="1423" y1="362.8" x2="1430.7" y2="361.2" stroke="#000" stroke-width="0.9" /><line x1="1423" y1="368.8" x2="1431.3" y2="367.2" stroke="#000" stroke-width="0.9" /><line x1="1425" y1="374.8" x2="1432.5" y2="373.2" stroke="#000" stroke-width="0.9" /><line x1="1425" y1="380.8" x2="1434" y2="379.2" stroke="#000" stroke-width="0.9" /><line x1="1425" y1="386.8" x2="1435.5" y2="385.2" stroke="#000" stroke-width="0.9" /><line x1="1425" y1="392.8" x2="1437" y2="391.2" stroke="#000" stroke-width="0.9" /><line x1="1425.3" y1="398.8" x2="1438.5" y2="397.2" stroke="#000" stroke-width="0.9" /><line x1="1425.7" y1="404.8" x2="1439.2" y2="403.2" stroke="#000" stroke-width="0.9" /><line x1="1426.1" y1="410.8" x2="1439.9" y2="409.2" stroke="#000" stroke-width="0.9" /><line x1="1426.6" y1="416.8" x2="1440.6" y2="415.2" stroke="#000" stroke-width="0.9" /><line x1="1427" y1="422.8" x2="1441.3" y2="421.2" stroke="#000" stroke-width="0.9" /><line x1="1426.7" y1="428.8" x2="1441.6" y2="427.2" stroke="#000" stroke-width="0.9" /><line x1="1426.4" y1="434.8" x2="1441.9" y2="433.2" stroke="#000" stroke-width="0.9" /><line x1="1426.1" y1="440.8" x2="1442.1" y2="439.2" stroke="#000" stroke-width="0.9" /><line x1="1425.9" y1="446.8" x2="1442.3" y2="445.2" stroke="#000" stroke-width="0.9" /><line x1="1425.6" y1="452.8" x2="1442.5" y2="451.2" stroke="#000" stroke-width="0.9" /><line x1="1425.3" y1="458.8" x2="1442.7" y2="457.2" stroke="#000" stroke-width="0.9" /><line x1="1425" y1="464.8" x2="1442.9" y2="463.2" stroke="#000" stroke-width="0.9" /><line x1="1425" y1="470.8" x2="1443.1" y2="469.2" stroke="#000" stroke-width="0.9" /><line x1="1425" y1="476.8" x2="1443.4" y2="475.2" stroke="#000" stroke-width="0.9" /><line x1="1425" y1="482.8" x2="1443.6" y2="481.2" stroke="#000" stroke-width="0.9" /><line x1="1425.5" y1="488.8" x2="1443.9" y2="487.2" stroke="#000" stroke-width="0.9" /><line x1="1426.3" y1="494.8" x2="1444.2" y2="493.2" stroke="#000" stroke-width="0.9" /><line x1="1427.1" y1="500.8" x2="1444.5" y2="499.2" stroke="#000" stroke-width="0.9" /><line x1="1427.9" y1="506.8" x2="1444.8" y2="505.2" stroke="#000" stroke-width="0.9" /><line x1="1428.7" y1="512.8" x2="1445.1" y2="511.2" stroke="#000" stroke-width="0.9" /><line x1="1430.3" y1="518.8" x2="1445.4" y2="517.2" stroke="#000" stroke-width="0.9" /><line x1="1432.3" y1="524.8" x2="1446.8" y2="523.2" stroke="#000" stroke-width="0.9" /><line x1="1435.3" y1="530.8" x2="1448.8" y2="529.2" stroke="#000" stroke-width="0.9" /><line x1="1438.7" y1="536.8" x2="1450.8" y2="535.2" stroke="#000" stroke-width="0.9" /><line x1="1441" y1="542.8" x2="1451.8" y2="541.2" stroke="#000" stroke-width="0.9" /><line x1="1441" y1="548.8" x2="1452.3" y2="547.2" stroke="#000" stroke-width="0.9" /><path d="M1417 398 L1424 396 L1424 418 L1417 416" fill="none" stroke="#000" stroke-width="1.2" /><path d="M1417 470 L1425 468 L1426 486 L1420 484" fill="none" stroke="#000" stroke-width="1.1" /><path d="M1428 520 L1440 515 L1443 530 L1434 534" fill="none" stroke="#000" stroke-width="1.1" /><ellipse cx="1349" cy="441" rx="6.5" ry="8.5" fill="none" stroke="#000" stroke-width="1.3" transform="rotate(10 1349 441)"/><ellipse cx="1358.5" cy="439" rx="3" ry="4.5" fill="none" stroke="#000" stroke-width="1.2" transform="rotate(10 1358.5 439)"/><line x1="1364" y1="436" x2="1423" y2="420" stroke="#000" stroke-width="1.7" stroke-dasharray="6 4" /><line x1="1503.6" y1="437.3" x2="1503.6" y2="484" stroke="#000" stroke-width="1.4" /><path d="M1487 497 L1489 492 L1496 490 L1498 486 L1504 487 L1504 498 L1497 500 L1490 500Z" fill="none" stroke="#000" stroke-width="1.2" /><ellipse cx="1507" cy="492.5" rx="4" ry="8" fill="none" stroke="#000" stroke-width="1.4"/><ellipse cx="1511" cy="492.5" rx="2.5" ry="6" fill="none" stroke="#000" stroke-width="1.1"/><line x1="1450" y1="506" x2="1486" y2="497" stroke="#000" stroke-width="1.7" stroke-dasharray="6 4" /><rect x="220.7" y="790.2" width="292.7" height="142.8" fill="none" stroke="#000" stroke-width="1.4"/><line x1="220.7" y1="826.4" x2="513.4" y2="826.4" stroke="#000" stroke-width="1.6" /><line x1="367.4" y1="790.2" x2="367.4" y2="933" stroke="#000" stroke-width="1.1" /><path d="M283 871C281.2 871.2 274.2 872.7 272 872C269.8 871.3 269 868.4 269.5 867C270 865.6 272.1 864.2 275 863.5C277.9 862.8 284 863.2 287 863C290 862.8 290.5 862.5 293 862.5C295.5 862.5 299.7 862.4 302 863C304.3 863.6 307.3 865.2 307 866C306.7 866.8 299.8 866.7 300 868C300.2 869.3 308 872.5 308.5 874C309 875.5 305.1 876 303 877C300.9 878 297.2 879.5 296 880" fill="none" stroke="#000" stroke-width="1.3" /><path d="M276 879 L273.5 887 L283 903 L290 903 L301 893 L304 885 L303 877" fill="none" stroke="#000" stroke-width="1.3" /><ellipse cx="287" cy="885" rx="4.5" ry="13.5" fill="none" stroke="#000" stroke-width="1.3"/><line x1="287" y1="874" x2="287" y2="897" stroke="#000" stroke-width="0.9" /><line x1="296" y1="880" x2="298" y2="893" stroke="#000" stroke-width="1" /><ellipse cx="441.7" cy="869.5" rx="20" ry="9" fill="none" stroke="#000" stroke-width="1.4"/><path d="M428 877 L425.6 886 L432 899 L440 903.4 L446 902 L456.6 890 L455 877" fill="none" stroke="#000" stroke-width="1.3" /><line x1="438" y1="880" x2="440" y2="898" stroke="#000" stroke-width="1" /><line x1="444" y1="880" x2="443" y2="898" stroke="#000" stroke-width="1" /><line x1="432" y1="885" x2="436" y2="898" stroke="#000" stroke-width="0.9" /><line x1="450" y1="882" x2="452" y2="893" stroke="#000" stroke-width="0.9" /><line x1="354.7" y1="771.3" x2="365.9" y2="781.7" stroke="#000" stroke-width="1.1" /><line x1="365.9" y1="771.3" x2="354.7" y2="781.7" stroke="#000" stroke-width="1.1" /><circle cx="360.3" cy="771" r="1.1" fill="#000"/><circle cx="360.3" cy="782" r="1.1" fill="#000"/><circle cx="354.4" cy="776.5" r="1.1" fill="#000"/><circle cx="366.2" cy="776.5" r="1.1" fill="#000"/><text x="369" y="784" font-family="'Liberation Sans'" font-size="17" fill="#000">1</text><line x1="500.7" y1="563.8" x2="512.7" y2="574.2" stroke="#000" stroke-width="1.1" /><line x1="512.7" y1="563.8" x2="500.7" y2="574.2" stroke="#000" stroke-width="1.1" /><circle cx="506.7" cy="563.5" r="1.2" fill="#000"/><circle cx="506.7" cy="574.5" r="1.2" fill="#000"/><circle cx="500.4" cy="569" r="1.2" fill="#000"/><circle cx="513" cy="569" r="1.2" fill="#000"/><text x="514.5" y="575.5" font-family="'Liberation Sans'" font-size="17" fill="#000">1</text><line x1="752" y1="540.8" x2="764" y2="550.8" stroke="#000" stroke-width="1.1" /><line x1="764" y1="540.8" x2="752" y2="550.8" stroke="#000" stroke-width="1.1" /><circle cx="758" cy="540.5" r="1.2" fill="#000"/><circle cx="758" cy="551" r="1.2" fill="#000"/><circle cx="751.7" cy="545.8" r="1.2" fill="#000"/><circle cx="764.3" cy="545.8" r="1.2" fill="#000"/><text x="766.5" y="552" font-family="'Liberation Sans'" font-size="16" fill="#000">2</text><line x1="752" y1="559.8" x2="764" y2="569.8" stroke="#000" stroke-width="1.1" /><line x1="764" y1="559.8" x2="752" y2="569.8" stroke="#000" stroke-width="1.1" /><circle cx="758" cy="559.5" r="1.2" fill="#000"/><circle cx="758" cy="570" r="1.2" fill="#000"/><circle cx="751.7" cy="564.8" r="1.2" fill="#000"/><circle cx="764.3" cy="564.8" r="1.2" fill="#000"/><text x="766.5" y="571.3" font-family="'Liberation Sans'" font-size="16" fill="#000">3</text><line x1="56.5" y1="985" x2="70.1" y2="996.5" stroke="#000" stroke-width="1.3" /><line x1="70.1" y1="985" x2="56.5" y2="996.5" stroke="#000" stroke-width="1.3" /><circle cx="63.3" cy="984.7" r="1.4" fill="#000"/><circle cx="63.3" cy="996.8" r="1.4" fill="#000"/><circle cx="56.2" cy="990.8" r="1.4" fill="#000"/><circle cx="70.4" cy="990.8" r="1.4" fill="#000"/><text transform="translate(72.5 996.6) scale(0.88 1)" font-family="'Liberation Sans'" font-size="18.3" fill="#000">2</text><text transform="translate(88.5 996.6) scale(0.75 1)" font-family="'Liberation Sans'" font-size="18.3" fill="#000">(</text><line x1="137" y1="990" x2="146" y2="990" stroke="#000" stroke-width="1.3" /><text transform="translate(152.8 996.6) scale(0.86 1)" font-family="'Liberation Sans'" font-size="18.3" fill="#000">1611</text><text transform="translate(191.5 996.6) scale(0.75 1)" font-family="'Liberation Sans'" font-size="18.3" fill="#000">)</text><line x1="56.5" y1="1011" x2="70.1" y2="1022.5" stroke="#000" stroke-width="1.3" /><line x1="70.1" y1="1011" x2="56.5" y2="1022.5" stroke="#000" stroke-width="1.3" /><circle cx="63.3" cy="1010.7" r="1.4" fill="#000"/><circle cx="63.3" cy="1022.8" r="1.4" fill="#000"/><circle cx="56.2" cy="1016.8" r="1.4" fill="#000"/><circle cx="70.4" cy="1016.8" r="1.4" fill="#000"/><text transform="translate(72.5 1023.2) scale(0.88 1)" font-family="'Liberation Sans'" font-size="18.3" fill="#000">3</text><text transform="translate(88.5 1023.2) scale(0.75 1)" font-family="'Liberation Sans'" font-size="18.3" fill="#000">(</text><text transform="translate(95 1023.2) scale(0.86 1)" font-family="'Liberation Sans'" font-size="18.3" fill="#000">1611</text><line x1="141" y1="1016.5" x2="150" y2="1016.5" stroke="#000" stroke-width="1.3" /><text transform="translate(191.5 1023.2) scale(0.75 1)" font-family="'Liberation Sans'" font-size="18.3" fill="#000">)</text><line x1="827.8" y1="821.8" x2="877" y2="821.8" stroke="#000" stroke-width="1.2" /><path d="M875.5 821.8 L876.5 825 L880 827.5 L886.3 829.4 L893 827.5 L900.3 823.7 L899.4 821.2 L894.5 820.5" fill="none" stroke="#000" stroke-width="1.8" /><path d="M880 821 L880 814 L879.8 807 L882 805.5 L887.5 805.5 L888.5 805 L892.8 805 L895.2 808 L895.3 822.5" fill="none" stroke="#000" stroke-width="1.7" /><path d="M880.5 821 L886 824 L894 821.5" fill="none" stroke="#000" stroke-width="1.3" /><line x1="889.6" y1="809.3" x2="889.6" y2="818.3" stroke="#000" stroke-width="1.6" /><path d="M881 806 L884 813 L884 818" fill="none" stroke="#000" stroke-width="1.2" /><line x1="888.2" y1="831" x2="888.2" y2="957" stroke="#000" stroke-width="1.8" stroke-dasharray="7 4" /><line x1="888.2" y1="865" x2="966.9" y2="873.7" stroke="#000" stroke-width="1.8" stroke-dasharray="7 4" /><line x1="984.9" y1="921.7" x2="984.9" y2="961" stroke="#000" stroke-width="1.8" stroke-dasharray="4 2" /><line x1="850.4" y1="733.9" x2="969.8" y2="802.3" stroke="#000" stroke-width="1.8" stroke-dasharray="7 4" /><line x1="849" y1="734" x2="853.3" y2="752.8" stroke="#000" stroke-width="1.3" stroke-dasharray="4 3" /><circle cx="857.7" cy="770.3" r="13.6" fill="none" stroke="#000" stroke-width="1.4"/><text transform="translate(857.7 778.3) scale(0.85 1)" text-anchor="middle" font-family="'Liberation Sans'" font-size="23" fill="#000">2</text><circle cx="1086.3" cy="835.8" r="13.6" fill="none" stroke="#000" stroke-width="1.4"/><text transform="translate(1086.3 843.8) scale(0.85 1)" text-anchor="middle" font-family="'Liberation Sans'" font-size="23" fill="#000">1</text><circle cx="1134.3" cy="848.9" r="13.6" fill="none" stroke="#000" stroke-width="1.4"/><text transform="translate(1134.3 856.9) scale(0.85 1)" text-anchor="middle" font-family="'Liberation Sans'" font-size="23" fill="#000">1</text><circle cx="1176" cy="880.9" r="13.6" fill="none" stroke="#000" stroke-width="1.4"/><text transform="translate(1176 888.9) scale(0.85 1)" text-anchor="middle" font-family="'Liberation Sans'" font-size="23" fill="#000">1</text><circle cx="1196.9" cy="921.7" r="13.6" fill="none" stroke="#000" stroke-width="1.4"/><text transform="translate(1196.9 929.8) scale(0.85 1)" text-anchor="middle" font-family="'Liberation Sans'" font-size="23" fill="#000">2</text><circle cx="888.2" cy="969.8" r="13.6" fill="none" stroke="#000" stroke-width="1.4"/><text transform="translate(888.2 977.8) scale(0.85 1)" text-anchor="middle" font-family="'Liberation Sans'" font-size="23" fill="#000">3</text><circle cx="984.9" cy="977" r="13.6" fill="none" stroke="#000" stroke-width="1.4"/><text transform="translate(984.9 985) scale(0.85 1)" text-anchor="middle" font-family="'Liberation Sans'" font-size="23" fill="#000">3</text><path d="M966.6 808.5C967.3 806.8 969.3 801.2 971 798C972.7 794.8 974.6 793.5 976.8 789.5C979 785.5 980.4 779.8 984 774.2C987.6 768.6 993.4 761.7 998.6 756C1003.8 750.3 1011.2 744.2 1015.4 740C1019.6 735.8 1020.4 734.5 1024 731C1027.6 727.5 1031.8 722.1 1036.9 718.9C1042 715.7 1048.2 712.9 1054.6 711.8C1060.9 710.6 1069.1 711.8 1075 712C1080.9 712.2 1085.7 713.3 1090 713C1094.3 712.7 1095.2 711.2 1100.6 710.2C1106 709.2 1115.8 707.2 1122.5 706.9C1129.2 706.6 1136.5 707.2 1141 708.6C1145.5 710 1143.8 711.9 1149.4 715.3C1155 718.7 1167.6 723.8 1174.6 728.8C1181.6 733.8 1187.3 740.4 1191.5 745.6C1195.7 750.8 1197.2 754.4 1200 760C1202.8 765.6 1206.1 769.3 1208.3 779.2C1210.5 789.1 1212.2 810.6 1213.3 819.6C1214.4 828.6 1214.4 828.1 1215 833.1C1215.6 838.1 1216.4 847.1 1216.7 849.9" fill="none" stroke="#000" stroke-width="2.2" /><path d="M975 806C975.8 803.7 978 797 980 792C982 787 983.9 781 987.2 775.7C990.5 770.4 994.1 766.7 1000 760C1005.9 753.3 1016 741.7 1022.7 735.5C1029.4 729.3 1034.5 726.1 1040 723C1045.5 719.9 1047.7 718 1056 717C1064.3 716 1079.3 717.8 1090 717C1100.7 716.2 1111.5 712.8 1120 712C1128.5 711.2 1132.3 708.8 1141 712C1149.7 715.2 1164.2 725.2 1172 731C1179.8 736.8 1184 741.3 1188 747C1192 752.7 1193.3 758.7 1196 765C1198.7 771.3 1201.8 775.8 1204 785C1206.2 794.2 1207.8 809.2 1209 820C1210.2 830.8 1210.7 845 1211 850" fill="none" stroke="#000" stroke-width="1" /><path d="M1100.6 710.2 L1100.6 695.1 L1110.7 693.4 L1119.1 698.5 L1122.5 706.9" fill="none" stroke="#000" stroke-width="1.2" /><path d="M1104 708 L1104 698 L1112 697 L1117 703" fill="none" stroke="#000" stroke-width="0.9" /><path d="M1052.3 713C1053.9 714.5 1058.5 719 1062 722C1065.5 725 1066 730.2 1073.6 730.8C1081.1 731.4 1094.9 727.1 1107.3 725.4C1119.7 723.6 1137.2 719 1147.7 720.3C1158.2 721.6 1162.7 728.2 1170 733C1177.3 737.8 1187.9 746.3 1191.5 749" fill="none" stroke="#000" stroke-width="1.1" /><path d="M1058 716C1059.7 717.8 1061 726 1068 727C1075 728 1087 723.8 1100 722C1113 720.2 1138.3 717 1146 716" fill="none" stroke="#000" stroke-width="0.9" /><path d="M1002.3 917.2C1003 912.1 1005.2 897 1006.7 886.6C1008.2 876.2 1009.1 864.4 1011 855C1012.9 845.6 1014.7 838.1 1018 830C1021.3 821.9 1026.5 814.4 1031 806.5C1035.5 798.6 1041.3 787.9 1045.2 782.8C1049.1 777.7 1049.9 778.5 1054.6 775.7C1059.3 772.9 1067.7 769 1073.6 766.2C1079.5 763.4 1085.8 761.4 1090 759.1C1094.2 756.8 1091.8 755.1 1098.9 752.3C1106 749.5 1123.3 744.4 1132.6 742.2C1141.8 740 1146.8 738.9 1154.4 738.9C1162 738.9 1171.8 740.5 1178 742.2C1184.2 743.9 1187.8 745.2 1191.5 749C1195.2 752.8 1198.6 762.3 1200 765" fill="none" stroke="#000" stroke-width="1.9" /><path d="M996 917C996.7 911.8 998.5 896.3 1000 886C1001.5 875.7 1003 864.3 1005 855C1007 845.7 1008.7 838.2 1012 830C1015.3 821.8 1020.3 813.7 1025 806C1029.7 798.3 1035.8 789.5 1040 784C1044.2 778.5 1045.8 776.2 1050 773C1054.2 769.8 1062.5 766.3 1065 765" fill="none" stroke="#000" stroke-width="1.1" /><path d="M1028 808C1030.3 804.7 1038 792.8 1042 788C1046 783.2 1047.3 782 1052 779C1056.7 776 1064 772.7 1070 770C1076 767.3 1085 764.2 1088 763" fill="none" stroke="#000" stroke-width="1" /><path d="M984 808C984.7 805.5 986.2 797.7 988 793C989.8 788.3 991.3 785 995 780C998.7 775 1004.2 768.5 1010 763C1015.8 757.5 1024.2 750.8 1030 747C1035.8 743.2 1042.5 741.2 1045 740" fill="none" stroke="#000" stroke-width="1" /><path d="M990 815C990.7 812.5 992.3 805 994 800C995.7 795 997 789.7 1000 785C1003 780.3 1010 774.2 1012 772" fill="none" stroke="#000" stroke-width="1" /><line x1="997.9" y1="805.3" x2="1031" y2="747.3" stroke="#000" stroke-width="2.6" /><line x1="996.4" y1="806.3" x2="1029.5" y2="748.3" stroke="#000" stroke-width="0.8" /><line x1="1006.1" y1="810" x2="1035.7" y2="754.4" stroke="#000" stroke-width="2.6" /><line x1="1004.6" y1="811" x2="1034.2" y2="755.4" stroke="#000" stroke-width="0.8" /><line x1="1010" y1="806" x2="1040.4" y2="762.7" stroke="#000" stroke-width="2.6" /><line x1="1008.5" y1="807" x2="1038.9" y2="763.7" stroke="#000" stroke-width="0.8" /><line x1="1036.9" y1="741.4" x2="1058.2" y2="728.4" stroke="#000" stroke-width="2.6" /><line x1="1035.4" y1="742.4" x2="1056.7" y2="729.4" stroke="#000" stroke-width="0.8" /><line x1="1041.6" y1="749.7" x2="1066.5" y2="735.5" stroke="#000" stroke-width="2.6" /><line x1="1040.1" y1="750.7" x2="1065" y2="736.5" stroke="#000" stroke-width="0.8" /><line x1="1046.3" y1="756.8" x2="1071.2" y2="739" stroke="#000" stroke-width="2.6" /><line x1="1044.8" y1="757.8" x2="1069.7" y2="740" stroke="#000" stroke-width="0.8" /><path d="M1023 731C1024.2 730.7 1027.5 730 1030 729C1032.5 728 1036.7 725.7 1038 725" fill="none" stroke="#000" stroke-width="2.5" /><path d="M988 783C989.2 779.8 992.2 768 995 764C997.8 760 1003.3 759.8 1005 759" fill="none" stroke="#000" stroke-width="1" /><line x1="966.3" y1="808" x2="964.1" y2="915" stroke="#000" stroke-width="1.5" /><line x1="976" y1="806" x2="976" y2="880" stroke="#000" stroke-width="1.1" /><path d="M966.3 806 L975 803.5 L1008.5 817.1" fill="none" stroke="#000" stroke-width="1.2" /><line x1="971" y1="809" x2="1004.5" y2="822" stroke="#000" stroke-width="1.1" /><line x1="975" y1="812" x2="1006" y2="826" stroke="#000" stroke-width="1" /><line x1="982" y1="816" x2="985" y2="917" stroke="#000" stroke-width="1" /><line x1="991" y1="820" x2="994" y2="917" stroke="#000" stroke-width="1.1" /><line x1="998" y1="840.7" x2="1013.2" y2="842.9" stroke="#000" stroke-width="1.5" /><line x1="998" y1="846" x2="1011" y2="848" stroke="#000" stroke-width="1" /><rect x="966" y="812" width="11" height="62" fill="#000" opacity="0.6"/><line x1="966" y1="812" x2="982" y2="813" stroke="#000" stroke-width="0.9" /><line x1="966" y1="815" x2="982" y2="816" stroke="#000" stroke-width="0.9" /><line x1="966" y1="818" x2="982" y2="819" stroke="#000" stroke-width="0.9" /><line x1="966" y1="821" x2="982" y2="822" stroke="#000" stroke-width="0.9" /><line x1="966" y1="824" x2="982" y2="825" stroke="#000" stroke-width="0.9" /><line x1="966" y1="827" x2="982" y2="828" stroke="#000" stroke-width="0.9" /><line x1="966" y1="830" x2="982" y2="831" stroke="#000" stroke-width="0.9" /><line x1="966" y1="833" x2="982" y2="834" stroke="#000" stroke-width="0.9" /><line x1="966" y1="836" x2="982" y2="837" stroke="#000" stroke-width="0.9" /><line x1="966" y1="839" x2="982" y2="840" stroke="#000" stroke-width="0.9" /><line x1="966" y1="842" x2="982" y2="843" stroke="#000" stroke-width="0.9" /><line x1="966" y1="845" x2="982" y2="846" stroke="#000" stroke-width="0.9" /><line x1="966" y1="848" x2="982" y2="849" stroke="#000" stroke-width="0.9" /><line x1="966" y1="851" x2="982" y2="852" stroke="#000" stroke-width="0.9" /><line x1="966" y1="854" x2="982" y2="855" stroke="#000" stroke-width="0.9" /><line x1="966" y1="857" x2="982" y2="858" stroke="#000" stroke-width="0.9" /><line x1="966" y1="860" x2="982" y2="861" stroke="#000" stroke-width="0.9" /><line x1="966" y1="863" x2="982" y2="864" stroke="#000" stroke-width="0.9" /><line x1="966" y1="866" x2="982" y2="867" stroke="#000" stroke-width="0.9" /><line x1="966" y1="869" x2="982" y2="870" stroke="#000" stroke-width="0.9" /><line x1="966" y1="872" x2="982" y2="873" stroke="#000" stroke-width="0.9" /><line x1="983" y1="830" x2="992" y2="831" stroke="#000" stroke-width="1.2" /><line x1="983" y1="836" x2="992" y2="837" stroke="#000" stroke-width="1.2" /><line x1="983" y1="842" x2="992" y2="843" stroke="#000" stroke-width="1.2" /><line x1="983" y1="848" x2="992" y2="849" stroke="#000" stroke-width="1.2" /><line x1="983" y1="854" x2="992" y2="855" stroke="#000" stroke-width="1.2" /><line x1="983" y1="860" x2="992" y2="861" stroke="#000" stroke-width="1.2" /><line x1="983" y1="866" x2="992" y2="867" stroke="#000" stroke-width="1.2" /><line x1="983" y1="872" x2="992" y2="873" stroke="#000" stroke-width="1.2" /><line x1="983" y1="878" x2="992" y2="879" stroke="#000" stroke-width="1.2" /><line x1="983" y1="884" x2="992" y2="885" stroke="#000" stroke-width="1.2" /><path d="M964.1 915 L985 919.4 L1002.3 917.2" fill="none" stroke="#000" stroke-width="1.2" /><path d="M966 880 L980 880 L980 900 L966 900Z" fill="none" stroke="#000" stroke-width="1.2" /><path d="M970 884 L977 884 L977 896 L970 896Z" fill="none" stroke="#000" stroke-width="1.6" /><path d="M886.6 912.8C888.8 910.3 895.3 902.1 900 898C904.7 893.9 908.3 890.7 915 888C921.7 885.3 931.8 883 940 882C948.2 881 960.1 882.2 964.1 882.2" fill="none" stroke="#000" stroke-width="1.2" /><path d="M886.6 912.8C889.7 913 898.8 913.6 905 914C911.2 914.4 914.5 914.5 923.7 915C932.9 915.5 949.8 916.3 960 917C970.2 917.7 980.8 919 984.9 919.4" fill="none" stroke="#000" stroke-width="1.2" /><path d="M893 906C897.5 904.3 908.3 899.2 920 896C931.7 892.8 955.8 888.2 963 886.6" fill="none" stroke="#000" stroke-width="1" /><path d="M900 908C905 906.8 919.5 903.5 930 901C940.5 898.5 957.5 894.3 963 893" fill="none" stroke="#000" stroke-width="1" /><path d="M915 893 L915 880 L922 878 L930 879 L941 880 L945 888" fill="none" stroke="#000" stroke-width="1.1" /><path d="M925 881 L932 877 L938 882" fill="none" stroke="#000" stroke-width="1" /><line x1="905" y1="910" x2="960" y2="900" stroke="#000" stroke-width="1" /><line x1="940" y1="895" x2="962" y2="885" stroke="#000" stroke-width="1.6" /><ellipse cx="889" cy="911" rx="2.5" ry="2" fill="none" stroke="#000" stroke-width="1.4"/><path d="M1073.7 764.1 L1073.7 733" fill="none" stroke="#000" stroke-width="1" /><path d="M1128 744 L1131 724" fill="none" stroke="#000" stroke-width="1" /><path d="M1147.7 720.3 L1151 740" fill="none" stroke="#000" stroke-width="1" /><path d="M1138 740 L1140 733 L1146 730 L1150 738" fill="none" stroke="#000" stroke-width="1.2" /><path d="M1075 750 L1078 744 L1084 748" fill="none" stroke="#000" stroke-width="1.2" /><path d="M1132 745C1133.3 747.5 1138 753.2 1140 760C1142 766.8 1143.3 781.7 1144 786" fill="none" stroke="#000" stroke-width="1" /><path d="M1136 745C1137.2 747.8 1141.2 755.2 1143 762C1144.8 768.8 1146.3 782 1147 786" fill="none" stroke="#000" stroke-width="1" /><path d="M1150 740C1152 744.2 1159 756.7 1162 765C1165 773.3 1166.6 780.3 1167.9 790C1169.2 799.7 1169.7 817.5 1170 823" fill="none" stroke="#000" stroke-width="1.2" /><path d="M1155 741C1156.8 745 1163.2 756.8 1166 765C1168.8 773.2 1170.7 780.3 1172 790C1173.3 799.7 1173.7 817.5 1174 823" fill="none" stroke="#000" stroke-width="1" /><path d="M1160 740C1162 743.3 1169 750 1172 760C1175 770 1176.7 789 1178 800C1179.3 811 1179.7 821.7 1180 826" fill="none" stroke="#000" stroke-width="1.1" /><path d="M1175 745C1177.2 749.2 1185.2 759.2 1188 770C1190.8 780.8 1190.8 799.5 1192 810C1193.2 820.5 1194.5 829.2 1195 833" fill="none" stroke="#000" stroke-width="1" /><path d="M1180 747C1182 751.2 1189.2 761.2 1192 772C1194.8 782.8 1195.8 801.5 1197 812C1198.2 822.5 1198.7 831.2 1199 835" fill="none" stroke="#000" stroke-width="1" /><path d="M1185 750C1187.5 755 1196.7 768.3 1200 780C1203.3 791.7 1204 808.3 1205 820C1206 831.7 1205.8 845 1206 850" fill="none" stroke="#000" stroke-width="1" /><path d="M1144.3 786 L1161.2 787.7 L1162.9 824.7 L1178 824.7 L1189.8 833.1 L1193.1 846.6 L1209.3 853.3 L1216.7 849.9" fill="none" stroke="#000" stroke-width="1.3" /><path d="M1151.1 823 L1162.9 824.7" fill="none" stroke="#000" stroke-width="1" /><path d="M1144.3 786 L1144 803 L1152 806" fill="none" stroke="#000" stroke-width="1.1" /><path d="M1146 790 L1150 790 L1150 800 L1146 800Z" fill="none" stroke="#000" stroke-width="1" /><path d="M1163 822 L1176 822 L1177 828 L1163 828Z" fill="none" stroke="#000" stroke-width="1.8" /><ellipse cx="1208" cy="780" rx="2.5" ry="3.5" fill="none" stroke="#000" stroke-width="1.4"/><ellipse cx="1210" cy="820" rx="2.5" ry="3.5" fill="none" stroke="#000" stroke-width="1.4"/><path d="M1078.7 819.6 L1063.6 796.1 L1093.9 780.9 L1105.6 718.7" fill="none" stroke="#000" stroke-width="1.7" stroke-dasharray="7 4" /><line x1="1063.6" y1="796.1" x2="1031" y2="739" stroke="#000" stroke-width="1.7" stroke-dasharray="7 4" /><path d="M1098.9 784.3 L1127.5 791 L1144.3 780.9 L1183 749" fill="none" stroke="#000" stroke-width="1.7" stroke-dasharray="7 4" /><line x1="1142.7" y1="833.1" x2="1157.8" y2="797.8" stroke="#000" stroke-width="1.7" stroke-dasharray="7 4" /><line x1="1176.3" y1="831.4" x2="1176.3" y2="866" stroke="#000" stroke-width="1.9" stroke-dasharray="4 2" /><line x1="1196.5" y1="833.1" x2="1196.5" y2="907" stroke="#000" stroke-width="1.7" stroke-dasharray="7 4" /><line x1="1215" y1="787.6" x2="1257.7" y2="787.6" stroke="#000" stroke-width="1.4" /><line x1="1248.1" y1="855" x2="1498" y2="855" stroke="#000" stroke-width="2" /><line x1="1248.1" y1="957.7" x2="1498" y2="957.7" stroke="#000" stroke-width="2" /><line x1="1248.1" y1="888.7" x2="1498" y2="888.7" stroke="#000" stroke-width="1.5" /><line x1="1248.1" y1="924.3" x2="1498" y2="924.3" stroke="#000" stroke-width="1" stroke-dasharray="1.5 0.8" /><line x1="1248.6" y1="855" x2="1248.6" y2="957.7" stroke="#000" stroke-width="1" stroke-dasharray="1.5 0.8" /><line x1="1286.3" y1="855" x2="1286.3" y2="957.7" stroke="#000" stroke-width="1" stroke-dasharray="1.5 0.8" /><line x1="1337.1" y1="855" x2="1337.1" y2="957.7" stroke="#000" stroke-width="1" stroke-dasharray="1.5 0.8" /><line x1="1497.5" y1="855" x2="1497.5" y2="957.7" stroke="#000" stroke-width="1" stroke-dasharray="1.5 0.8" /><circle cx="1267.5" cy="872" r="13.8" fill="none" stroke="#000" stroke-width="1.4"/><text transform="translate(1267.5 880) scale(0.85 1)" text-anchor="middle" font-family="'Liberation Sans'" font-size="23" fill="#000">1</text><circle cx="1267.5" cy="906" r="13.8" fill="none" stroke="#000" stroke-width="1.4"/><text transform="translate(1267.5 914) scale(0.85 1)" text-anchor="middle" font-family="'Liberation Sans'" font-size="23" fill="#000">2</text><circle cx="1267.5" cy="941" r="13.8" fill="none" stroke="#000" stroke-width="1.4"/><text transform="translate(1267.5 949) scale(0.85 1)" text-anchor="middle" font-family="'Liberation Sans'" font-size="23" fill="#000">3</text><path d="M1294.2 868 L1297.2 863.5 L1306.2 862.5 L1314.2 866 L1314.2 878 L1306.2 881.5 L1297.2 880.5 L1294.2 876Z" fill="none" stroke="#000" stroke-width="1.3" /><line x1="1306.2" y1="862.5" x2="1306.2" y2="881.5" stroke="#000" stroke-width="1" /><path d="M1308.2 863C1308.7 864.5 1311.2 869 1311.2 872C1311.2 875 1308.7 879.5 1308.2 881" fill="none" stroke="#000" stroke-width="1" /><line x1="1296.2" y1="872" x2="1304.2" y2="872" stroke="#000" stroke-width="1" /><line x1="1300.2" y1="868" x2="1300.2" y2="876" stroke="#000" stroke-width="1" /><path d="M1314.2 868 L1328.2 868 L1333.2 872 L1328.2 876 L1314.2 876" fill="none" stroke="#000" stroke-width="1.3" /><path d="M1316.2 869C1316.5 869.5 1318.2 871 1318.2 872C1318.2 873 1316.5 874.5 1316.2 875" fill="none" stroke="#000" stroke-width="0.8" /><path d="M1319.7 869C1320 869.5 1321.7 871 1321.7 872C1321.7 873 1320 874.5 1319.7 875" fill="none" stroke="#000" stroke-width="0.8" /><path d="M1323.2 869C1323.5 869.5 1325.2 871 1325.2 872C1325.2 873 1323.5 874.5 1323.2 875" fill="none" stroke="#000" stroke-width="0.8" /><path d="M1326.7 869C1327 869.5 1328.7 871 1328.7 872C1328.7 873 1327 874.5 1326.7 875" fill="none" stroke="#000" stroke-width="0.8" /><path d="M1294.2 937 L1297.2 932.5 L1306.2 931.5 L1314.2 935 L1314.2 947 L1306.2 950.5 L1297.2 949.5 L1294.2 945Z" fill="none" stroke="#000" stroke-width="1.3" /><line x1="1306.2" y1="931.5" x2="1306.2" y2="950.5" stroke="#000" stroke-width="1" /><path d="M1308.2 932C1308.7 933.5 1311.2 938 1311.2 941C1311.2 944 1308.7 948.5 1308.2 950" fill="none" stroke="#000" stroke-width="1" /><line x1="1296.2" y1="941" x2="1304.2" y2="941" stroke="#000" stroke-width="1" /><line x1="1300.2" y1="937" x2="1300.2" y2="945" stroke="#000" stroke-width="1" /><path d="M1314.2 937 L1328.2 937 L1333.2 941 L1328.2 945 L1314.2 945" fill="none" stroke="#000" stroke-width="1.3" /><path d="M1316.2 938C1316.5 938.5 1318.2 940 1318.2 941C1318.2 942 1316.5 943.5 1316.2 944" fill="none" stroke="#000" stroke-width="0.8" /><path d="M1319.7 938C1320 938.5 1321.7 940 1321.7 941C1321.7 942 1320 943.5 1319.7 944" fill="none" stroke="#000" stroke-width="0.8" /><path d="M1323.2 938C1323.5 938.5 1325.2 940 1325.2 941C1325.2 942 1323.5 943.5 1323.2 944" fill="none" stroke="#000" stroke-width="0.8" /><path d="M1326.7 938C1327 938.5 1328.7 940 1328.7 941C1328.7 942 1327 943.5 1326.7 944" fill="none" stroke="#000" stroke-width="0.8" /><path d="M1298.3 906 L1302 896 L1311 894 L1317.2 900 L1317.2 912 L1311 918.5 L1302 917 L1298.3 906" fill="none" stroke="#000" stroke-width="1.3" /><path d="M1306 897C1306.7 898.5 1310 903 1310 906C1310 909 1306.7 913.5 1306 915" fill="none" stroke="#000" stroke-width="1" /><path d="M1317.2 900.7 L1325 900.7 L1326.6 903 L1326.6 909 L1325 911.7 L1317.2 911.7" fill="none" stroke="#000" stroke-width="1.2" /><line x1="1319" y1="906" x2="1325" y2="906" stroke="#000" stroke-width="1" /><line x1="1322" y1="902" x2="1322" y2="910" stroke="#000" stroke-width="1" /><line x1="909" y1="1023.2" x2="955.5" y2="1023.2" stroke="#000" stroke-width="1.2" /><path d="M955.5 1037.4 L955.5 1006.4 L957 1006 L958.8 1008 L958.8 1037.4" fill="none" stroke="#000" stroke-width="1.2" /><path d="M962 1030.1 L976.7 1041.5 L978.4 1045.6 L980 1052.1 L983.3 1053.8 L983.3 1066 L979.2 1064.4 L967 1057 L959.6 1048.9 L953.1 1048.9 L950.6 1038.3 L953.9 1034.2 L958 1033 L962 1030.1" fill="none" stroke="#000" stroke-width="1.3" /><path d="M963 1034 L974 1043 L971 1045 L963 1038Z" fill="none" stroke="#000" stroke-width="1.6" /><line x1="980" y1="1043.2" x2="1025.7" y2="1030.9" stroke="#000" stroke-width="1.7" stroke-dasharray="6 5" /><path d="M1029 1029.3 L1034 1025.5 L1045 1022.5 L1046 1028 L1036 1031.5Z" fill="none" stroke="#000" stroke-width="1.2" /><ellipse cx="1049.5" cy="1024.5" rx="5.5" ry="8.5" fill="none" stroke="#000" stroke-width="1.3"/><path d="M1054.3 1015.4 L1059 1016 L1060.8 1022 L1059 1028.5 L1054.3 1028.5" fill="none" stroke="#000" stroke-width="1.2" /><line x1="1060.8" y1="1022.8" x2="1107.7" y2="1022.8" stroke="#000" stroke-width="1.4" /></g>
</svg>
</body></html>
